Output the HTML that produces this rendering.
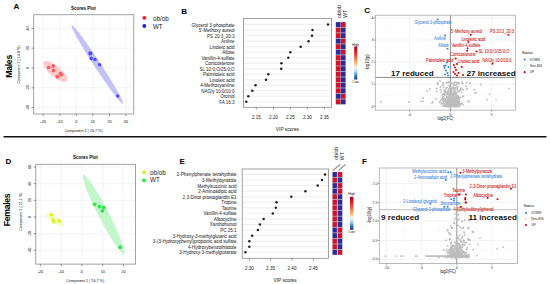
<!DOCTYPE html>
<html><head><meta charset="utf-8"><style>
html,body{margin:0;padding:0;background:#fff;width:550px;height:284px;overflow:hidden}
svg{display:block;font-family:"Liberation Sans",sans-serif}
.gp{text-rendering:geometricPrecision;stroke-width:0.08px}
</style></head><body>
<svg width="550" height="284" viewBox="0 0 550 284">
<rect width="550" height="284" fill="#fff"/>
<defs>
<linearGradient id="gB" x1="0" y1="0" x2="0" y2="1">
<stop offset="0" stop-color="#a50026"/><stop offset="0.15" stop-color="#d7191c"/><stop offset="0.35" stop-color="#f46d43"/><stop offset="0.5" stop-color="#fdb466"/><stop offset="0.63" stop-color="#f7f7ea"/><stop offset="0.76" stop-color="#a6d6ea"/><stop offset="0.88" stop-color="#3b7fc2"/><stop offset="1" stop-color="#1b2f8b"/>
</linearGradient>
<linearGradient id="gE" x1="0" y1="0" x2="0" y2="1">
<stop offset="0" stop-color="#a50026"/><stop offset="0.15" stop-color="#d7191c"/><stop offset="0.35" stop-color="#f46d43"/><stop offset="0.5" stop-color="#fdb466"/><stop offset="0.63" stop-color="#f7f7ea"/><stop offset="0.76" stop-color="#a6d6ea"/><stop offset="0.88" stop-color="#3b7fc2"/><stop offset="1" stop-color="#1b2f8b"/>
</linearGradient>
</defs>
<rect x="33.7" y="14.75" width="100.10000000000001" height="99.25" fill="#fff"/>
<line x1="43.20" y1="14.75" x2="43.20" y2="114.00" stroke="#ececec" stroke-width="0.6"/>
<line x1="59.80" y1="14.75" x2="59.80" y2="114.00" stroke="#ececec" stroke-width="0.6"/>
<line x1="76.30" y1="14.75" x2="76.30" y2="114.00" stroke="#ececec" stroke-width="0.6"/>
<line x1="92.80" y1="14.75" x2="92.80" y2="114.00" stroke="#ececec" stroke-width="0.6"/>
<line x1="109.40" y1="14.75" x2="109.40" y2="114.00" stroke="#ececec" stroke-width="0.6"/>
<line x1="125.90" y1="14.75" x2="125.90" y2="114.00" stroke="#ececec" stroke-width="0.6"/>
<line x1="33.70" y1="28.50" x2="133.80" y2="28.50" stroke="#ececec" stroke-width="0.6"/>
<line x1="33.70" y1="48.25" x2="133.80" y2="48.25" stroke="#ececec" stroke-width="0.6"/>
<line x1="33.70" y1="68.00" x2="133.80" y2="68.00" stroke="#ececec" stroke-width="0.6"/>
<line x1="33.70" y1="87.75" x2="133.80" y2="87.75" stroke="#ececec" stroke-width="0.6"/>
<line x1="33.70" y1="107.50" x2="133.80" y2="107.50" stroke="#ececec" stroke-width="0.6"/>
<ellipse cx="55.45" cy="71.55" rx="14.99" ry="5.4" transform="rotate(39.59 55.45 71.55)" fill="#ffcaca" fill-opacity="1"/>
<ellipse cx="97.30" cy="64.55" rx="46.92" ry="3.25" transform="rotate(56.78 97.30 64.55)" fill="#c2c2f8" fill-opacity="1"/>
<circle cx="48.70" cy="67.50" r="1.85" fill="#ff5a64"/>
<circle cx="53.10" cy="65.90" r="1.85" fill="#ff5a64"/>
<circle cx="53.50" cy="70.50" r="1.85" fill="#ff5a64"/>
<circle cx="57.20" cy="76.70" r="1.85" fill="#ff5a64"/>
<circle cx="60.40" cy="73.60" r="1.85" fill="#ff5a64"/>
<circle cx="61.20" cy="74.60" r="1.85" fill="#ff5a64"/>
<circle cx="91.20" cy="58.40" r="1.8" fill="#4e4eff"/>
<circle cx="95.00" cy="59.50" r="1.8" fill="#4e4eff"/>
<circle cx="99.60" cy="64.70" r="1.8" fill="#4e4eff"/>
<circle cx="117.60" cy="96.00" r="1.8" fill="#4e4eff"/>
<circle cx="90.40" cy="53.40" r="2.1" fill="#4e4eff"/>
<rect x="33.70" y="14.75" width="100.10" height="99.25" fill="none" stroke="#8a8a8a" stroke-width="0.8"/>
<line x1="43.20" y1="114.00" x2="43.20" y2="116.20" stroke="#555" stroke-width="0.6"/>
<g transform="translate(43.20,122.73) scale(0.9,1)"><text font-size="4.111" text-anchor="middle" fill="#333" stroke="#333" stroke-width="0.04">-20</text></g>
<line x1="59.80" y1="114.00" x2="59.80" y2="116.20" stroke="#555" stroke-width="0.6"/>
<g transform="translate(59.80,122.73) scale(0.9,1)"><text font-size="4.111" text-anchor="middle" fill="#333" stroke="#333" stroke-width="0.04">-10</text></g>
<line x1="76.30" y1="114.00" x2="76.30" y2="116.20" stroke="#555" stroke-width="0.6"/>
<g transform="translate(76.30,122.73) scale(0.9,1)"><text font-size="4.111" text-anchor="middle" fill="#333" stroke="#333" stroke-width="0.04">0</text></g>
<line x1="92.80" y1="114.00" x2="92.80" y2="116.20" stroke="#555" stroke-width="0.6"/>
<g transform="translate(92.80,122.73) scale(0.9,1)"><text font-size="4.111" text-anchor="middle" fill="#333" stroke="#333" stroke-width="0.04">10</text></g>
<line x1="109.40" y1="114.00" x2="109.40" y2="116.20" stroke="#555" stroke-width="0.6"/>
<g transform="translate(109.40,122.73) scale(0.9,1)"><text font-size="4.111" text-anchor="middle" fill="#333" stroke="#333" stroke-width="0.04">20</text></g>
<line x1="125.90" y1="114.00" x2="125.90" y2="116.20" stroke="#555" stroke-width="0.6"/>
<g transform="translate(125.90,122.73) scale(0.9,1)"><text font-size="4.111" text-anchor="middle" fill="#333" stroke="#333" stroke-width="0.04">30</text></g>
<line x1="31.50" y1="28.50" x2="33.70" y2="28.50" stroke="#555" stroke-width="0.6"/>
<g transform="translate(28.60,28.50) rotate(-90) scale(0.9,1)"><text font-size="4.111" text-anchor="middle" fill="#333" stroke="#333" stroke-width="0.04">40</text></g>
<line x1="31.50" y1="48.25" x2="33.70" y2="48.25" stroke="#555" stroke-width="0.6"/>
<g transform="translate(28.60,48.25) rotate(-90) scale(0.9,1)"><text font-size="4.111" text-anchor="middle" fill="#333" stroke="#333" stroke-width="0.04">20</text></g>
<line x1="31.50" y1="68.00" x2="33.70" y2="68.00" stroke="#555" stroke-width="0.6"/>
<g transform="translate(28.60,68.00) rotate(-90) scale(0.9,1)"><text font-size="4.111" text-anchor="middle" fill="#333" stroke="#333" stroke-width="0.04">0</text></g>
<line x1="31.50" y1="87.75" x2="33.70" y2="87.75" stroke="#555" stroke-width="0.6"/>
<g transform="translate(28.60,87.75) rotate(-90) scale(0.9,1)"><text font-size="4.111" text-anchor="middle" fill="#333" stroke="#333" stroke-width="0.04">-20</text></g>
<line x1="31.50" y1="107.50" x2="33.70" y2="107.50" stroke="#555" stroke-width="0.6"/>
<g transform="translate(28.60,107.50) rotate(-90) scale(0.9,1)"><text font-size="4.111" text-anchor="middle" fill="#333" stroke="#333" stroke-width="0.04">-40</text></g>
<text x="13.60" y="8.80" font-size="8" text-anchor="start" fill="#000" font-weight="bold">A</text>
<text x="83.50" y="9.82" font-size="4.5" text-anchor="middle" fill="#000" font-weight="bold">Scores Plot</text>
<g transform="translate(19.80,64.50) rotate(-90) scale(0.9,1)"><text font-size="4.111" text-anchor="middle" fill="#333" stroke="#333" stroke-width="0.04">Component 2 ( 14.8 %)</text></g>
<g transform="translate(83.50,131.53) scale(0.9,1)"><text font-size="4.111" text-anchor="middle" fill="#333" stroke="#333" stroke-width="0.04">Component 1 ( 20.7 %)</text></g>
<text transform="translate(12.20,66.40) rotate(-90)" font-size="8.7" text-anchor="middle" font-weight="bold" letter-spacing="-0.3">Males</text>
<rect x="35.8" y="164.3" width="99.60000000000001" height="99.80000000000001" fill="#fff"/>
<line x1="40.40" y1="164.30" x2="40.40" y2="264.10" stroke="#ececec" stroke-width="0.6"/>
<line x1="61.20" y1="164.30" x2="61.20" y2="264.10" stroke="#ececec" stroke-width="0.6"/>
<line x1="81.90" y1="164.30" x2="81.90" y2="264.10" stroke="#ececec" stroke-width="0.6"/>
<line x1="102.70" y1="164.30" x2="102.70" y2="264.10" stroke="#ececec" stroke-width="0.6"/>
<line x1="123.40" y1="164.30" x2="123.40" y2="264.10" stroke="#ececec" stroke-width="0.6"/>
<line x1="35.80" y1="167.00" x2="135.40" y2="167.00" stroke="#ececec" stroke-width="0.6"/>
<line x1="35.80" y1="183.70" x2="135.40" y2="183.70" stroke="#ececec" stroke-width="0.6"/>
<line x1="35.80" y1="200.30" x2="135.40" y2="200.30" stroke="#ececec" stroke-width="0.6"/>
<line x1="35.80" y1="217.00" x2="135.40" y2="217.00" stroke="#ececec" stroke-width="0.6"/>
<line x1="35.80" y1="233.60" x2="135.40" y2="233.60" stroke="#ececec" stroke-width="0.6"/>
<line x1="35.80" y1="250.30" x2="135.40" y2="250.30" stroke="#ececec" stroke-width="0.6"/>
<ellipse cx="55.00" cy="219.80" rx="10.85" ry="3.4" transform="rotate(32.96 55.00 219.80)" fill="#f2fcc6" fill-opacity="1"/>
<ellipse cx="103.65" cy="214.45" rx="44.48" ry="5.2" transform="rotate(62.77 103.65 214.45)" fill="#c4f6cc" fill-opacity="1"/>
<circle cx="51.30" cy="214.70" r="1.9" fill="#dff22a"/>
<circle cx="53.10" cy="219.80" r="1.9" fill="#dff22a"/>
<circle cx="53.80" cy="221.70" r="1.9" fill="#dff22a"/>
<circle cx="59.50" cy="220.80" r="1.9" fill="#dff22a"/>
<circle cx="94.60" cy="204.30" r="1.9" fill="#2ae84e"/>
<circle cx="99.40" cy="206.60" r="1.9" fill="#2ae84e"/>
<circle cx="103.70" cy="207.50" r="1.9" fill="#2ae84e"/>
<circle cx="102.40" cy="210.80" r="1.9" fill="#2ae84e"/>
<circle cx="120.20" cy="247.20" r="1.9" fill="#2ae84e"/>
<rect x="35.80" y="164.30" width="99.60" height="99.80" fill="none" stroke="#8a8a8a" stroke-width="0.8"/>
<line x1="40.40" y1="264.10" x2="40.40" y2="266.30" stroke="#555" stroke-width="0.6"/>
<g transform="translate(40.40,273.33) scale(0.9,1)"><text font-size="4.111" text-anchor="middle" fill="#333" stroke="#333" stroke-width="0.04">-20</text></g>
<line x1="61.20" y1="264.10" x2="61.20" y2="266.30" stroke="#555" stroke-width="0.6"/>
<g transform="translate(61.20,273.33) scale(0.9,1)"><text font-size="4.111" text-anchor="middle" fill="#333" stroke="#333" stroke-width="0.04">-10</text></g>
<line x1="81.90" y1="264.10" x2="81.90" y2="266.30" stroke="#555" stroke-width="0.6"/>
<g transform="translate(81.90,273.33) scale(0.9,1)"><text font-size="4.111" text-anchor="middle" fill="#333" stroke="#333" stroke-width="0.04">0</text></g>
<line x1="102.70" y1="264.10" x2="102.70" y2="266.30" stroke="#555" stroke-width="0.6"/>
<g transform="translate(102.70,273.33) scale(0.9,1)"><text font-size="4.111" text-anchor="middle" fill="#333" stroke="#333" stroke-width="0.04">10</text></g>
<line x1="123.40" y1="264.10" x2="123.40" y2="266.30" stroke="#555" stroke-width="0.6"/>
<g transform="translate(123.40,273.33) scale(0.9,1)"><text font-size="4.111" text-anchor="middle" fill="#333" stroke="#333" stroke-width="0.04">20</text></g>
<line x1="33.60" y1="167.00" x2="35.80" y2="167.00" stroke="#555" stroke-width="0.6"/>
<g transform="translate(30.70,167.00) rotate(-90) scale(0.9,1)"><text font-size="4.111" text-anchor="middle" fill="#333" stroke="#333" stroke-width="0.04">60</text></g>
<line x1="33.60" y1="183.70" x2="35.80" y2="183.70" stroke="#555" stroke-width="0.6"/>
<g transform="translate(30.70,183.70) rotate(-90) scale(0.9,1)"><text font-size="4.111" text-anchor="middle" fill="#333" stroke="#333" stroke-width="0.04">40</text></g>
<line x1="33.60" y1="200.30" x2="35.80" y2="200.30" stroke="#555" stroke-width="0.6"/>
<g transform="translate(30.70,200.30) rotate(-90) scale(0.9,1)"><text font-size="4.111" text-anchor="middle" fill="#333" stroke="#333" stroke-width="0.04">20</text></g>
<line x1="33.60" y1="217.00" x2="35.80" y2="217.00" stroke="#555" stroke-width="0.6"/>
<g transform="translate(30.70,217.00) rotate(-90) scale(0.9,1)"><text font-size="4.111" text-anchor="middle" fill="#333" stroke="#333" stroke-width="0.04">0</text></g>
<line x1="33.60" y1="233.60" x2="35.80" y2="233.60" stroke="#555" stroke-width="0.6"/>
<g transform="translate(30.70,233.60) rotate(-90) scale(0.9,1)"><text font-size="4.111" text-anchor="middle" fill="#333" stroke="#333" stroke-width="0.04">-20</text></g>
<line x1="33.60" y1="250.30" x2="35.80" y2="250.30" stroke="#555" stroke-width="0.6"/>
<g transform="translate(30.70,250.30) rotate(-90) scale(0.9,1)"><text font-size="4.111" text-anchor="middle" fill="#333" stroke="#333" stroke-width="0.04">-40</text></g>
<text x="5.60" y="164.20" font-size="8" text-anchor="start" fill="#000" font-weight="bold">D</text>
<text x="85.40" y="159.42" font-size="4.5" text-anchor="middle" fill="#000" font-weight="bold">Scores Plot</text>
<g transform="translate(22.00,211.70) rotate(-90) scale(0.9,1)"><text font-size="4.111" text-anchor="middle" fill="#333" stroke="#333" stroke-width="0.04">Component 2 ( 21.1 %)</text></g>
<g transform="translate(85.00,281.83) scale(0.9,1)"><text font-size="4.111" text-anchor="middle" fill="#333" stroke="#333" stroke-width="0.04">Component 1 ( 16.7 %)</text></g>
<text transform="translate(10.40,210.00) rotate(-90)" font-size="8.7" text-anchor="middle" font-weight="bold" letter-spacing="-0.3">Females</text>
<circle cx="144.30" cy="17.80" r="1.9" fill="#ff1414"/>
<circle cx="144.30" cy="26.00" r="1.9" fill="#1a1aff"/>
<text x="152.90" y="21.37" font-size="6.3" text-anchor="start" fill="#222">ob/ob</text>
<text x="152.90" y="28.87" font-size="6.3" text-anchor="start" fill="#222">WT</text>
<circle cx="144.00" cy="172.30" r="1.9" fill="#d8f01a"/>
<circle cx="144.00" cy="180.30" r="1.9" fill="#1af52a"/>
<text x="150.00" y="174.77" font-size="6.3" text-anchor="start" fill="#222">ob/ob</text>
<text x="150.00" y="182.27" font-size="6.3" text-anchor="start" fill="#222">WT</text>
<rect x="243.4" y="18.5" width="87.99999999999997" height="88.8" fill="#fff"/>
<line x1="243.40" y1="24.60" x2="331.40" y2="24.60" stroke="#e2e2e2" stroke-width="0.6"/>
<g transform="translate(234.60,26.55) scale(0.9,1)"><text font-size="5.05" text-anchor="end" fill="#333" stroke="#333" stroke-width="0.05">Glycerol 3-phosphate</text></g>
<circle cx="328.00" cy="24.60" r="1.25" fill="#222"/>
<line x1="243.40" y1="30.11" x2="331.40" y2="30.11" stroke="#e2e2e2" stroke-width="0.6"/>
<g transform="translate(234.60,32.06) scale(0.9,1)"><text font-size="5.05" text-anchor="end" fill="#333" stroke="#333" stroke-width="0.05">5'-Methoxy aureol</text></g>
<circle cx="312.50" cy="30.11" r="1.25" fill="#222"/>
<line x1="243.40" y1="35.63" x2="331.40" y2="35.63" stroke="#e2e2e2" stroke-width="0.6"/>
<g transform="translate(234.60,37.58) scale(0.9,1)"><text font-size="5.05" text-anchor="end" fill="#333" stroke="#333" stroke-width="0.05">PS 20:3_20:3</text></g>
<circle cx="312.00" cy="35.63" r="1.25" fill="#222"/>
<line x1="243.40" y1="41.14" x2="331.40" y2="41.14" stroke="#e2e2e2" stroke-width="0.6"/>
<g transform="translate(234.60,43.09) scale(0.9,1)"><text font-size="5.05" text-anchor="end" fill="#333" stroke="#333" stroke-width="0.05">Aniline</text></g>
<circle cx="308.60" cy="41.14" r="1.25" fill="#222"/>
<line x1="243.40" y1="46.66" x2="331.40" y2="46.66" stroke="#e2e2e2" stroke-width="0.6"/>
<g transform="translate(234.60,48.61) scale(0.9,1)"><text font-size="5.05" text-anchor="end" fill="#333" stroke="#333" stroke-width="0.05">Linoleic acid</text></g>
<circle cx="300.70" cy="46.66" r="1.25" fill="#222"/>
<line x1="243.40" y1="52.17" x2="331.40" y2="52.17" stroke="#e2e2e2" stroke-width="0.6"/>
<g transform="translate(234.60,54.12) scale(0.9,1)"><text font-size="5.05" text-anchor="end" fill="#333" stroke="#333" stroke-width="0.05">Allose</text></g>
<circle cx="290.30" cy="52.17" r="1.25" fill="#222"/>
<line x1="243.40" y1="57.68" x2="331.40" y2="57.68" stroke="#e2e2e2" stroke-width="0.6"/>
<g transform="translate(234.60,59.63) scale(0.9,1)"><text font-size="5.05" text-anchor="end" fill="#333" stroke="#333" stroke-width="0.05">Vanillin-4-sulfate</text></g>
<circle cx="288.30" cy="57.68" r="1.25" fill="#222"/>
<line x1="243.40" y1="63.20" x2="331.40" y2="63.20" stroke="#e2e2e2" stroke-width="0.6"/>
<g transform="translate(234.60,65.15) scale(0.9,1)"><text font-size="5.05" text-anchor="end" fill="#333" stroke="#333" stroke-width="0.05">Corticosterone</text></g>
<circle cx="281.40" cy="63.20" r="1.25" fill="#222"/>
<line x1="243.40" y1="68.71" x2="331.40" y2="68.71" stroke="#e2e2e2" stroke-width="0.6"/>
<g transform="translate(234.60,70.66) scale(0.9,1)"><text font-size="5.05" text-anchor="end" fill="#333" stroke="#333" stroke-width="0.05">SL 10:0;O/25:0;O</text></g>
<circle cx="281.20" cy="68.71" r="1.25" fill="#222"/>
<line x1="243.40" y1="74.23" x2="331.40" y2="74.23" stroke="#e2e2e2" stroke-width="0.6"/>
<g transform="translate(234.60,76.18) scale(0.9,1)"><text font-size="5.05" text-anchor="end" fill="#333" stroke="#333" stroke-width="0.05">Palmitoleic acid</text></g>
<circle cx="268.30" cy="74.23" r="1.25" fill="#222"/>
<line x1="243.40" y1="79.74" x2="331.40" y2="79.74" stroke="#e2e2e2" stroke-width="0.6"/>
<g transform="translate(234.60,81.69) scale(0.9,1)"><text font-size="5.05" text-anchor="end" fill="#333" stroke="#333" stroke-width="0.05">Linoleic acid</text></g>
<circle cx="266.00" cy="79.74" r="1.25" fill="#222"/>
<line x1="243.40" y1="85.25" x2="331.40" y2="85.25" stroke="#e2e2e2" stroke-width="0.6"/>
<g transform="translate(234.60,87.20) scale(0.9,1)"><text font-size="5.05" text-anchor="end" fill="#333" stroke="#333" stroke-width="0.05">4-Methoxyaniline</text></g>
<circle cx="255.50" cy="85.25" r="1.25" fill="#222"/>
<line x1="243.40" y1="90.77" x2="331.40" y2="90.77" stroke="#e2e2e2" stroke-width="0.6"/>
<g transform="translate(234.60,92.72) scale(0.9,1)"><text font-size="5.05" text-anchor="end" fill="#333" stroke="#333" stroke-width="0.05">NAGly 10:0/10:0</text></g>
<circle cx="252.30" cy="90.77" r="1.25" fill="#222"/>
<line x1="243.40" y1="96.28" x2="331.40" y2="96.28" stroke="#e2e2e2" stroke-width="0.6"/>
<g transform="translate(234.60,98.23) scale(0.9,1)"><text font-size="5.05" text-anchor="end" fill="#333" stroke="#333" stroke-width="0.05">Orcinol</text></g>
<circle cx="248.30" cy="96.28" r="1.25" fill="#222"/>
<line x1="243.40" y1="101.80" x2="331.40" y2="101.80" stroke="#e2e2e2" stroke-width="0.6"/>
<g transform="translate(234.60,103.75) scale(0.9,1)"><text font-size="5.05" text-anchor="end" fill="#333" stroke="#333" stroke-width="0.05">FA 16:3</text></g>
<circle cx="246.30" cy="101.80" r="1.25" fill="#222"/>
<rect x="243.40" y="18.50" width="88.00" height="88.80" fill="none" stroke="#8a8a8a" stroke-width="0.8"/>
<line x1="256.40" y1="107.30" x2="256.40" y2="109.50" stroke="#555" stroke-width="0.6"/>
<g transform="translate(256.40,119.16) scale(0.9,1)"><text font-size="5.111" text-anchor="middle" fill="#333" stroke="#333" stroke-width="0.05">2.15</text></g>
<line x1="273.40" y1="107.30" x2="273.40" y2="109.50" stroke="#555" stroke-width="0.6"/>
<g transform="translate(273.40,119.16) scale(0.9,1)"><text font-size="5.111" text-anchor="middle" fill="#333" stroke="#333" stroke-width="0.05">2.20</text></g>
<line x1="290.40" y1="107.30" x2="290.40" y2="109.50" stroke="#555" stroke-width="0.6"/>
<g transform="translate(290.40,119.16) scale(0.9,1)"><text font-size="5.111" text-anchor="middle" fill="#333" stroke="#333" stroke-width="0.05">2.25</text></g>
<line x1="307.40" y1="107.30" x2="307.40" y2="109.50" stroke="#555" stroke-width="0.6"/>
<g transform="translate(307.40,119.16) scale(0.9,1)"><text font-size="5.111" text-anchor="middle" fill="#333" stroke="#333" stroke-width="0.05">2.30</text></g>
<line x1="324.40" y1="107.30" x2="324.40" y2="109.50" stroke="#555" stroke-width="0.6"/>
<g transform="translate(324.40,119.16) scale(0.9,1)"><text font-size="5.111" text-anchor="middle" fill="#333" stroke="#333" stroke-width="0.05">2.35</text></g>
<g transform="translate(287.40,130.53) scale(0.9,1)"><text font-size="5.333" text-anchor="middle" fill="#333" stroke="#333" stroke-width="0.05">VIP scores</text></g>
<text x="181.30" y="14.00" font-size="8" text-anchor="start" fill="#000" font-weight="bold">B</text>
<rect x="335.60" y="21.84" width="10.20" height="82.71" fill="#c4c4c4" stroke="none" stroke-width="1"/>
<rect x="335.90" y="22.19" width="4.60" height="4.81" fill="#2b2b9e" stroke="none" stroke-width="1"/>
<rect x="340.90" y="22.19" width="4.60" height="4.81" fill="#d1122c" stroke="none" stroke-width="1"/>
<rect x="335.90" y="27.71" width="4.60" height="4.81" fill="#d1122c" stroke="none" stroke-width="1"/>
<rect x="340.90" y="27.71" width="4.60" height="4.81" fill="#2b2b9e" stroke="none" stroke-width="1"/>
<rect x="335.90" y="33.22" width="4.60" height="4.81" fill="#d1122c" stroke="none" stroke-width="1"/>
<rect x="340.90" y="33.22" width="4.60" height="4.81" fill="#2b2b9e" stroke="none" stroke-width="1"/>
<rect x="335.90" y="38.74" width="4.60" height="4.81" fill="#2b2b9e" stroke="none" stroke-width="1"/>
<rect x="340.90" y="38.74" width="4.60" height="4.81" fill="#d1122c" stroke="none" stroke-width="1"/>
<rect x="335.90" y="44.25" width="4.60" height="4.81" fill="#d1122c" stroke="none" stroke-width="1"/>
<rect x="340.90" y="44.25" width="4.60" height="4.81" fill="#2b2b9e" stroke="none" stroke-width="1"/>
<rect x="335.90" y="49.76" width="4.60" height="4.81" fill="#2b2b9e" stroke="none" stroke-width="1"/>
<rect x="340.90" y="49.76" width="4.60" height="4.81" fill="#d1122c" stroke="none" stroke-width="1"/>
<rect x="335.90" y="55.28" width="4.60" height="4.81" fill="#d1122c" stroke="none" stroke-width="1"/>
<rect x="340.90" y="55.28" width="4.60" height="4.81" fill="#2b2b9e" stroke="none" stroke-width="1"/>
<rect x="335.90" y="60.79" width="4.60" height="4.81" fill="#d1122c" stroke="none" stroke-width="1"/>
<rect x="340.90" y="60.79" width="4.60" height="4.81" fill="#2b2b9e" stroke="none" stroke-width="1"/>
<rect x="335.90" y="66.30" width="4.60" height="4.81" fill="#d1122c" stroke="none" stroke-width="1"/>
<rect x="340.90" y="66.30" width="4.60" height="4.81" fill="#2b2b9e" stroke="none" stroke-width="1"/>
<rect x="335.90" y="71.82" width="4.60" height="4.81" fill="#d1122c" stroke="none" stroke-width="1"/>
<rect x="340.90" y="71.82" width="4.60" height="4.81" fill="#2b2b9e" stroke="none" stroke-width="1"/>
<rect x="335.90" y="77.33" width="4.60" height="4.81" fill="#d1122c" stroke="none" stroke-width="1"/>
<rect x="340.90" y="77.33" width="4.60" height="4.81" fill="#2b2b9e" stroke="none" stroke-width="1"/>
<rect x="335.90" y="82.85" width="4.60" height="4.81" fill="#d1122c" stroke="none" stroke-width="1"/>
<rect x="340.90" y="82.85" width="4.60" height="4.81" fill="#2b2b9e" stroke="none" stroke-width="1"/>
<rect x="335.90" y="88.36" width="4.60" height="4.81" fill="#d1122c" stroke="none" stroke-width="1"/>
<rect x="340.90" y="88.36" width="4.60" height="4.81" fill="#2b2b9e" stroke="none" stroke-width="1"/>
<rect x="335.90" y="93.88" width="4.60" height="4.81" fill="#2b2b9e" stroke="none" stroke-width="1"/>
<rect x="340.90" y="93.88" width="4.60" height="4.81" fill="#d1122c" stroke="none" stroke-width="1"/>
<rect x="335.90" y="99.39" width="4.60" height="4.81" fill="#d1122c" stroke="none" stroke-width="1"/>
<rect x="340.90" y="99.39" width="4.60" height="4.81" fill="#2b2b9e" stroke="none" stroke-width="1"/>
<text transform="translate(341.00,11.60) rotate(-90)" font-size="5.2" text-anchor="middle" fill="#222">ob/ob</text>
<text transform="translate(347.20,13.70) rotate(-90)" font-size="5.2" text-anchor="middle" fill="#222">WT</text>
<rect x="354.2" y="46.5" width="3.1" height="33.0" fill="url(#gB)"/>
<g transform="translate(355.70,45.92) scale(0.9,1)"><text font-size="3.778" text-anchor="middle" fill="#333" stroke="#333" stroke-width="0.04">High</text></g>
<g transform="translate(355.70,82.82) scale(0.9,1)"><text font-size="3.778" text-anchor="middle" fill="#333" stroke="#333" stroke-width="0.04">Low</text></g>
<rect x="242.2" y="169.0" width="86.30000000000001" height="89.30000000000001" fill="#fff"/>
<line x1="242.20" y1="174.50" x2="328.50" y2="174.50" stroke="#e2e2e2" stroke-width="0.6"/>
<g transform="translate(236.60,176.45) scale(0.9,1)"><text font-size="5.05" text-anchor="end" fill="#333" stroke="#333" stroke-width="0.05">2-Phenylphenate tetrahydrate</text></g>
<circle cx="325.00" cy="174.50" r="1.25" fill="#222"/>
<line x1="242.20" y1="180.06" x2="328.50" y2="180.06" stroke="#e2e2e2" stroke-width="0.6"/>
<g transform="translate(236.60,182.01) scale(0.9,1)"><text font-size="5.05" text-anchor="end" fill="#333" stroke="#333" stroke-width="0.05">3-Methylpyrazole</text></g>
<circle cx="322.00" cy="180.06" r="1.25" fill="#222"/>
<line x1="242.20" y1="185.61" x2="328.50" y2="185.61" stroke="#e2e2e2" stroke-width="0.6"/>
<g transform="translate(236.60,187.56) scale(0.9,1)"><text font-size="5.05" text-anchor="end" fill="#333" stroke="#333" stroke-width="0.05">Methylsuccinic acid</text></g>
<circle cx="317.70" cy="185.61" r="1.25" fill="#222"/>
<line x1="242.20" y1="191.17" x2="328.50" y2="191.17" stroke="#e2e2e2" stroke-width="0.6"/>
<g transform="translate(236.60,193.12) scale(0.9,1)"><text font-size="5.05" text-anchor="end" fill="#333" stroke="#333" stroke-width="0.05">2-Aminoadipic acid</text></g>
<circle cx="305.40" cy="191.17" r="1.25" fill="#222"/>
<line x1="242.20" y1="196.73" x2="328.50" y2="196.73" stroke="#e2e2e2" stroke-width="0.6"/>
<g transform="translate(236.60,198.68) scale(0.9,1)"><text font-size="5.05" text-anchor="end" fill="#333" stroke="#333" stroke-width="0.05">2,3-Dinor prostaglandin E1</text></g>
<circle cx="291.30" cy="196.73" r="1.25" fill="#222"/>
<line x1="242.20" y1="202.28" x2="328.50" y2="202.28" stroke="#e2e2e2" stroke-width="0.6"/>
<g transform="translate(236.60,204.23) scale(0.9,1)"><text font-size="5.05" text-anchor="end" fill="#333" stroke="#333" stroke-width="0.05">Tropine</text></g>
<circle cx="276.50" cy="202.28" r="1.25" fill="#222"/>
<line x1="242.20" y1="207.84" x2="328.50" y2="207.84" stroke="#e2e2e2" stroke-width="0.6"/>
<g transform="translate(236.60,209.79) scale(0.9,1)"><text font-size="5.05" text-anchor="end" fill="#333" stroke="#333" stroke-width="0.05">Taurine</text></g>
<circle cx="275.80" cy="207.84" r="1.25" fill="#222"/>
<line x1="242.20" y1="213.40" x2="328.50" y2="213.40" stroke="#e2e2e2" stroke-width="0.6"/>
<g transform="translate(236.60,215.35) scale(0.9,1)"><text font-size="5.05" text-anchor="end" fill="#333" stroke="#333" stroke-width="0.05">Vanillin-4-sulfate</text></g>
<circle cx="272.80" cy="213.40" r="1.25" fill="#222"/>
<line x1="242.20" y1="218.96" x2="328.50" y2="218.96" stroke="#e2e2e2" stroke-width="0.6"/>
<g transform="translate(236.60,220.91) scale(0.9,1)"><text font-size="5.05" text-anchor="end" fill="#333" stroke="#333" stroke-width="0.05">Albocycline</text></g>
<circle cx="263.60" cy="218.96" r="1.25" fill="#222"/>
<line x1="242.20" y1="224.51" x2="328.50" y2="224.51" stroke="#e2e2e2" stroke-width="0.6"/>
<g transform="translate(236.60,226.46) scale(0.9,1)"><text font-size="5.05" text-anchor="end" fill="#333" stroke="#333" stroke-width="0.05">Xanthohumol</text></g>
<circle cx="259.90" cy="224.51" r="1.25" fill="#222"/>
<line x1="242.20" y1="230.07" x2="328.50" y2="230.07" stroke="#e2e2e2" stroke-width="0.6"/>
<g transform="translate(236.60,232.02) scale(0.9,1)"><text font-size="5.05" text-anchor="end" fill="#333" stroke="#333" stroke-width="0.05">PC 25:1</text></g>
<circle cx="257.90" cy="230.07" r="1.25" fill="#222"/>
<line x1="242.20" y1="235.63" x2="328.50" y2="235.63" stroke="#e2e2e2" stroke-width="0.6"/>
<g transform="translate(236.60,237.58) scale(0.9,1)"><text font-size="5.05" text-anchor="end" fill="#333" stroke="#333" stroke-width="0.05">3-Hydroxy-3-methylglutaric acid</text></g>
<circle cx="252.20" cy="235.63" r="1.25" fill="#222"/>
<line x1="242.20" y1="241.18" x2="328.50" y2="241.18" stroke="#e2e2e2" stroke-width="0.6"/>
<g transform="translate(236.60,243.13) scale(0.9,1)"><text font-size="5.05" text-anchor="end" fill="#333" stroke="#333" stroke-width="0.05">3-(3-Hydroxyphenyl)propionic acid sulfate</text></g>
<circle cx="249.30" cy="241.18" r="1.25" fill="#222"/>
<line x1="242.20" y1="246.74" x2="328.50" y2="246.74" stroke="#e2e2e2" stroke-width="0.6"/>
<g transform="translate(236.60,248.69) scale(0.9,1)"><text font-size="5.05" text-anchor="end" fill="#333" stroke="#333" stroke-width="0.05">4-Hydroxybenzothiazole</text></g>
<circle cx="249.30" cy="246.74" r="1.25" fill="#222"/>
<line x1="242.20" y1="252.30" x2="328.50" y2="252.30" stroke="#e2e2e2" stroke-width="0.6"/>
<g transform="translate(236.60,254.25) scale(0.9,1)"><text font-size="5.05" text-anchor="end" fill="#333" stroke="#333" stroke-width="0.05">3-Hydroxy-3-methylglutarate</text></g>
<circle cx="245.40" cy="252.30" r="1.25" fill="#222"/>
<rect x="242.20" y="169.00" width="86.30" height="89.30" fill="none" stroke="#8a8a8a" stroke-width="0.8"/>
<line x1="249.40" y1="258.30" x2="249.40" y2="260.50" stroke="#555" stroke-width="0.6"/>
<g transform="translate(249.40,269.96) scale(0.9,1)"><text font-size="5.111" text-anchor="middle" fill="#333" stroke="#333" stroke-width="0.05">2.30</text></g>
<line x1="270.60" y1="258.30" x2="270.60" y2="260.50" stroke="#555" stroke-width="0.6"/>
<g transform="translate(270.60,269.96) scale(0.9,1)"><text font-size="5.111" text-anchor="middle" fill="#333" stroke="#333" stroke-width="0.05">2.35</text></g>
<line x1="292.00" y1="258.30" x2="292.00" y2="260.50" stroke="#555" stroke-width="0.6"/>
<g transform="translate(292.00,269.96) scale(0.9,1)"><text font-size="5.111" text-anchor="middle" fill="#333" stroke="#333" stroke-width="0.05">2.40</text></g>
<line x1="313.40" y1="258.30" x2="313.40" y2="260.50" stroke="#555" stroke-width="0.6"/>
<g transform="translate(313.40,269.96) scale(0.9,1)"><text font-size="5.111" text-anchor="middle" fill="#333" stroke="#333" stroke-width="0.05">2.45</text></g>
<g transform="translate(285.00,281.53) scale(0.9,1)"><text font-size="5.333" text-anchor="middle" fill="#333" stroke="#333" stroke-width="0.05">VIP scores</text></g>
<text x="179.60" y="164.20" font-size="8" text-anchor="start" fill="#000" font-weight="bold">E</text>
<rect x="332.30" y="171.72" width="10.20" height="83.36" fill="#c4c4c4" stroke="none" stroke-width="1"/>
<rect x="332.60" y="172.07" width="4.30" height="4.86" fill="#2b2b9e" stroke="none" stroke-width="1"/>
<rect x="337.90" y="172.07" width="4.30" height="4.86" fill="#d1122c" stroke="none" stroke-width="1"/>
<rect x="332.60" y="177.63" width="4.30" height="4.86" fill="#d1122c" stroke="none" stroke-width="1"/>
<rect x="337.90" y="177.63" width="4.30" height="4.86" fill="#2b2b9e" stroke="none" stroke-width="1"/>
<rect x="332.60" y="183.18" width="4.30" height="4.86" fill="#2b2b9e" stroke="none" stroke-width="1"/>
<rect x="337.90" y="183.18" width="4.30" height="4.86" fill="#d1122c" stroke="none" stroke-width="1"/>
<rect x="332.60" y="188.74" width="4.30" height="4.86" fill="#2b2b9e" stroke="none" stroke-width="1"/>
<rect x="337.90" y="188.74" width="4.30" height="4.86" fill="#d1122c" stroke="none" stroke-width="1"/>
<rect x="332.60" y="194.30" width="4.30" height="4.86" fill="#d1122c" stroke="none" stroke-width="1"/>
<rect x="337.90" y="194.30" width="4.30" height="4.86" fill="#2b2b9e" stroke="none" stroke-width="1"/>
<rect x="332.60" y="199.85" width="4.30" height="4.86" fill="#d1122c" stroke="none" stroke-width="1"/>
<rect x="337.90" y="199.85" width="4.30" height="4.86" fill="#2b2b9e" stroke="none" stroke-width="1"/>
<rect x="332.60" y="205.41" width="4.30" height="4.86" fill="#d1122c" stroke="none" stroke-width="1"/>
<rect x="337.90" y="205.41" width="4.30" height="4.86" fill="#2b2b9e" stroke="none" stroke-width="1"/>
<rect x="332.60" y="210.97" width="4.30" height="4.86" fill="#d1122c" stroke="none" stroke-width="1"/>
<rect x="337.90" y="210.97" width="4.30" height="4.86" fill="#2b2b9e" stroke="none" stroke-width="1"/>
<rect x="332.60" y="216.53" width="4.30" height="4.86" fill="#d1122c" stroke="none" stroke-width="1"/>
<rect x="337.90" y="216.53" width="4.30" height="4.86" fill="#2b2b9e" stroke="none" stroke-width="1"/>
<rect x="332.60" y="222.08" width="4.30" height="4.86" fill="#d1122c" stroke="none" stroke-width="1"/>
<rect x="337.90" y="222.08" width="4.30" height="4.86" fill="#2b2b9e" stroke="none" stroke-width="1"/>
<rect x="332.60" y="227.64" width="4.30" height="4.86" fill="#2b2b9e" stroke="none" stroke-width="1"/>
<rect x="337.90" y="227.64" width="4.30" height="4.86" fill="#d1122c" stroke="none" stroke-width="1"/>
<rect x="332.60" y="233.20" width="4.30" height="4.86" fill="#2b2b9e" stroke="none" stroke-width="1"/>
<rect x="337.90" y="233.20" width="4.30" height="4.86" fill="#d1122c" stroke="none" stroke-width="1"/>
<rect x="332.60" y="238.75" width="4.30" height="4.86" fill="#d1122c" stroke="none" stroke-width="1"/>
<rect x="337.90" y="238.75" width="4.30" height="4.86" fill="#2b2b9e" stroke="none" stroke-width="1"/>
<rect x="332.60" y="244.31" width="4.30" height="4.86" fill="#d1122c" stroke="none" stroke-width="1"/>
<rect x="337.90" y="244.31" width="4.30" height="4.86" fill="#2b2b9e" stroke="none" stroke-width="1"/>
<rect x="332.60" y="249.87" width="4.30" height="4.86" fill="#2b2b9e" stroke="none" stroke-width="1"/>
<rect x="337.90" y="249.87" width="4.30" height="4.86" fill="#d1122c" stroke="none" stroke-width="1"/>
<text transform="translate(338.40,153.30) rotate(-90)" font-size="5.2" text-anchor="middle" fill="#222">ob/ob</text>
<text transform="translate(344.20,156.20) rotate(-90)" font-size="5.2" text-anchor="middle" fill="#222">WT</text>
<rect x="350.0" y="196.8" width="3.4" height="33.0" fill="url(#gE)"/>
<g transform="translate(351.70,195.42) scale(0.9,1)"><text font-size="3.778" text-anchor="middle" fill="#333" stroke="#333" stroke-width="0.04">High</text></g>
<g transform="translate(351.70,233.42) scale(0.9,1)"><text font-size="3.778" text-anchor="middle" fill="#333" stroke="#333" stroke-width="0.04">Low</text></g>
<line x1="332.9" y1="170.6" x2="340.09999999999997" y2="164.4" stroke="#9a9a9a" stroke-width="1.3"/>
<line x1="338.4" y1="170.6" x2="345.59999999999997" y2="164.4" stroke="#9a9a9a" stroke-width="1.3"/>
<rect x="375.3" y="15.2" width="139.99999999999994" height="94.89999999999999" fill="#fff"/>
<line x1="375.30" y1="106.30" x2="515.30" y2="106.30" stroke="#ebebeb" stroke-width="0.6"/>
<line x1="375.30" y1="84.20" x2="515.30" y2="84.20" stroke="#ebebeb" stroke-width="0.6"/>
<line x1="375.30" y1="62.10" x2="515.30" y2="62.10" stroke="#ebebeb" stroke-width="0.6"/>
<line x1="375.30" y1="40.00" x2="515.30" y2="40.00" stroke="#ebebeb" stroke-width="0.6"/>
<line x1="375.30" y1="17.90" x2="515.30" y2="17.90" stroke="#ebebeb" stroke-width="0.6"/>
<line x1="375.30" y1="95.25" x2="515.30" y2="95.25" stroke="#f4f4f4" stroke-width="0.4"/>
<line x1="375.30" y1="73.15" x2="515.30" y2="73.15" stroke="#f4f4f4" stroke-width="0.4"/>
<line x1="375.30" y1="51.05" x2="515.30" y2="51.05" stroke="#f4f4f4" stroke-width="0.4"/>
<line x1="375.30" y1="28.95" x2="515.30" y2="28.95" stroke="#f4f4f4" stroke-width="0.4"/>
<line x1="409.60" y1="15.20" x2="409.60" y2="110.10" stroke="#ebebeb" stroke-width="0.6"/>
<line x1="450.40" y1="15.20" x2="450.40" y2="110.10" stroke="#ebebeb" stroke-width="0.6"/>
<line x1="491.70" y1="15.20" x2="491.70" y2="110.10" stroke="#ebebeb" stroke-width="0.6"/>
<line x1="430.00" y1="15.20" x2="430.00" y2="110.10" stroke="#f4f4f4" stroke-width="0.4"/>
<line x1="471.05" y1="15.20" x2="471.05" y2="110.10" stroke="#f4f4f4" stroke-width="0.4"/>
<line x1="389.20" y1="15.20" x2="389.20" y2="110.10" stroke="#f4f4f4" stroke-width="0.4"/>
<line x1="512.10" y1="15.20" x2="512.10" y2="110.10" stroke="#f4f4f4" stroke-width="0.4"/>
<line x1="450.40" y1="15.20" x2="450.40" y2="110.10" stroke="#555" stroke-width="0.6"/>
<line x1="375.30" y1="77.40" x2="515.30" y2="77.40" stroke="#5a5a5a" stroke-width="0.7"/>
<circle cx="450.40" cy="102.00" r="0.95" fill="#bdbdbd"/>
<circle cx="450.53" cy="103.76" r="0.95" fill="#bdbdbd"/>
<circle cx="447.50" cy="104.68" r="0.95" fill="#bdbdbd"/>
<circle cx="456.28" cy="102.78" r="0.95" fill="#bdbdbd"/>
<circle cx="455.96" cy="104.36" r="0.95" fill="#bdbdbd"/>
<circle cx="453.20" cy="104.93" r="0.95" fill="#bdbdbd"/>
<circle cx="444.34" cy="98.90" r="0.95" fill="#bdbdbd"/>
<circle cx="453.68" cy="102.11" r="0.95" fill="#bdbdbd"/>
<circle cx="444.23" cy="90.91" r="0.95" fill="#bdbdbd"/>
<circle cx="447.67" cy="102.39" r="0.95" fill="#bdbdbd"/>
<circle cx="452.81" cy="106.19" r="0.95" fill="#bdbdbd"/>
<circle cx="453.74" cy="100.82" r="0.95" fill="#bdbdbd"/>
<circle cx="452.83" cy="103.05" r="0.95" fill="#bdbdbd"/>
<circle cx="448.66" cy="91.14" r="0.95" fill="#bdbdbd"/>
<circle cx="453.89" cy="95.83" r="0.95" fill="#bdbdbd"/>
<circle cx="448.83" cy="99.94" r="0.95" fill="#bdbdbd"/>
<circle cx="450.02" cy="105.64" r="0.95" fill="#bdbdbd"/>
<circle cx="454.22" cy="104.36" r="0.95" fill="#bdbdbd"/>
<circle cx="449.58" cy="97.99" r="0.95" fill="#bdbdbd"/>
<circle cx="449.26" cy="95.61" r="0.95" fill="#bdbdbd"/>
<circle cx="448.03" cy="104.40" r="0.95" fill="#bdbdbd"/>
<circle cx="453.33" cy="93.19" r="0.95" fill="#bdbdbd"/>
<circle cx="451.71" cy="94.84" r="0.95" fill="#bdbdbd"/>
<circle cx="442.84" cy="103.71" r="0.95" fill="#bdbdbd"/>
<circle cx="451.04" cy="99.24" r="0.95" fill="#bdbdbd"/>
<circle cx="453.64" cy="106.04" r="0.95" fill="#bdbdbd"/>
<circle cx="445.20" cy="99.15" r="0.95" fill="#bdbdbd"/>
<circle cx="454.38" cy="98.09" r="0.95" fill="#bdbdbd"/>
<circle cx="457.69" cy="103.34" r="0.95" fill="#bdbdbd"/>
<circle cx="452.01" cy="94.91" r="0.95" fill="#bdbdbd"/>
<circle cx="454.15" cy="101.09" r="0.95" fill="#bdbdbd"/>
<circle cx="449.55" cy="95.22" r="0.95" fill="#bdbdbd"/>
<circle cx="447.34" cy="101.82" r="0.95" fill="#bdbdbd"/>
<circle cx="457.04" cy="88.31" r="0.95" fill="#bdbdbd"/>
<circle cx="445.23" cy="104.45" r="0.95" fill="#bdbdbd"/>
<circle cx="457.71" cy="101.39" r="0.95" fill="#bdbdbd"/>
<circle cx="443.33" cy="83.94" r="0.95" fill="#bdbdbd"/>
<circle cx="453.04" cy="99.97" r="0.95" fill="#bdbdbd"/>
<circle cx="446.68" cy="97.80" r="0.95" fill="#bdbdbd"/>
<circle cx="456.24" cy="105.18" r="0.95" fill="#bdbdbd"/>
<circle cx="452.56" cy="102.69" r="0.95" fill="#bdbdbd"/>
<circle cx="458.35" cy="101.03" r="0.95" fill="#bdbdbd"/>
<circle cx="453.73" cy="101.67" r="0.95" fill="#bdbdbd"/>
<circle cx="444.76" cy="95.06" r="0.95" fill="#bdbdbd"/>
<circle cx="455.61" cy="101.83" r="0.95" fill="#bdbdbd"/>
<circle cx="443.01" cy="100.90" r="0.95" fill="#bdbdbd"/>
<circle cx="455.12" cy="90.30" r="0.95" fill="#bdbdbd"/>
<circle cx="450.71" cy="97.42" r="0.95" fill="#bdbdbd"/>
<circle cx="445.86" cy="92.11" r="0.95" fill="#bdbdbd"/>
<circle cx="453.87" cy="105.25" r="0.95" fill="#bdbdbd"/>
<circle cx="452.90" cy="100.75" r="0.95" fill="#bdbdbd"/>
<circle cx="452.02" cy="96.29" r="0.95" fill="#bdbdbd"/>
<circle cx="448.66" cy="102.87" r="0.95" fill="#bdbdbd"/>
<circle cx="455.98" cy="106.36" r="0.95" fill="#bdbdbd"/>
<circle cx="447.71" cy="98.08" r="0.95" fill="#bdbdbd"/>
<circle cx="457.80" cy="102.60" r="0.95" fill="#bdbdbd"/>
<circle cx="445.57" cy="105.39" r="0.95" fill="#bdbdbd"/>
<circle cx="450.86" cy="103.92" r="0.95" fill="#bdbdbd"/>
<circle cx="457.54" cy="97.36" r="0.95" fill="#bdbdbd"/>
<circle cx="456.92" cy="95.19" r="0.95" fill="#bdbdbd"/>
<circle cx="448.12" cy="100.92" r="0.95" fill="#bdbdbd"/>
<circle cx="456.35" cy="98.87" r="0.95" fill="#bdbdbd"/>
<circle cx="452.98" cy="105.32" r="0.95" fill="#bdbdbd"/>
<circle cx="452.16" cy="101.42" r="0.95" fill="#bdbdbd"/>
<circle cx="450.74" cy="104.10" r="0.95" fill="#bdbdbd"/>
<circle cx="453.96" cy="106.59" r="0.95" fill="#bdbdbd"/>
<circle cx="454.79" cy="101.51" r="0.95" fill="#bdbdbd"/>
<circle cx="460.15" cy="103.68" r="0.95" fill="#bdbdbd"/>
<circle cx="449.66" cy="103.25" r="0.95" fill="#bdbdbd"/>
<circle cx="451.44" cy="98.29" r="0.95" fill="#bdbdbd"/>
<circle cx="450.05" cy="103.13" r="0.95" fill="#bdbdbd"/>
<circle cx="459.40" cy="83.52" r="0.95" fill="#bdbdbd"/>
<circle cx="446.67" cy="104.40" r="0.95" fill="#bdbdbd"/>
<circle cx="453.21" cy="104.45" r="0.95" fill="#bdbdbd"/>
<circle cx="449.65" cy="100.70" r="0.95" fill="#bdbdbd"/>
<circle cx="452.71" cy="101.90" r="0.95" fill="#bdbdbd"/>
<circle cx="461.95" cy="103.40" r="0.95" fill="#bdbdbd"/>
<circle cx="449.12" cy="105.70" r="0.95" fill="#bdbdbd"/>
<circle cx="450.53" cy="106.04" r="0.95" fill="#bdbdbd"/>
<circle cx="439.77" cy="102.22" r="0.95" fill="#bdbdbd"/>
<circle cx="455.84" cy="96.08" r="0.95" fill="#bdbdbd"/>
<circle cx="451.21" cy="98.02" r="0.95" fill="#bdbdbd"/>
<circle cx="455.18" cy="93.18" r="0.95" fill="#bdbdbd"/>
<circle cx="444.18" cy="103.42" r="0.95" fill="#bdbdbd"/>
<circle cx="450.03" cy="100.99" r="0.95" fill="#bdbdbd"/>
<circle cx="456.19" cy="82.45" r="0.95" fill="#bdbdbd"/>
<circle cx="456.18" cy="93.57" r="0.95" fill="#bdbdbd"/>
<circle cx="454.44" cy="93.17" r="0.95" fill="#bdbdbd"/>
<circle cx="452.26" cy="95.85" r="0.95" fill="#bdbdbd"/>
<circle cx="450.86" cy="104.88" r="0.95" fill="#bdbdbd"/>
<circle cx="454.93" cy="105.33" r="0.95" fill="#bdbdbd"/>
<circle cx="451.12" cy="92.80" r="0.95" fill="#bdbdbd"/>
<circle cx="456.01" cy="103.96" r="0.95" fill="#bdbdbd"/>
<circle cx="463.30" cy="96.28" r="0.95" fill="#bdbdbd"/>
<circle cx="455.43" cy="104.21" r="0.95" fill="#bdbdbd"/>
<circle cx="452.07" cy="100.25" r="0.95" fill="#bdbdbd"/>
<circle cx="452.46" cy="100.85" r="0.95" fill="#bdbdbd"/>
<circle cx="444.93" cy="93.01" r="0.95" fill="#bdbdbd"/>
<circle cx="454.14" cy="97.93" r="0.95" fill="#bdbdbd"/>
<circle cx="447.09" cy="93.37" r="0.95" fill="#bdbdbd"/>
<circle cx="456.95" cy="99.88" r="0.95" fill="#bdbdbd"/>
<circle cx="457.83" cy="98.16" r="0.95" fill="#bdbdbd"/>
<circle cx="451.50" cy="96.34" r="0.95" fill="#bdbdbd"/>
<circle cx="454.79" cy="92.30" r="0.95" fill="#bdbdbd"/>
<circle cx="447.67" cy="92.56" r="0.95" fill="#bdbdbd"/>
<circle cx="455.75" cy="105.00" r="0.95" fill="#bdbdbd"/>
<circle cx="443.02" cy="93.94" r="0.95" fill="#bdbdbd"/>
<circle cx="451.09" cy="101.17" r="0.95" fill="#bdbdbd"/>
<circle cx="453.22" cy="102.91" r="0.95" fill="#bdbdbd"/>
<circle cx="457.94" cy="97.42" r="0.95" fill="#bdbdbd"/>
<circle cx="456.39" cy="93.21" r="0.95" fill="#bdbdbd"/>
<circle cx="457.74" cy="104.97" r="0.95" fill="#bdbdbd"/>
<circle cx="448.30" cy="97.43" r="0.95" fill="#bdbdbd"/>
<circle cx="452.00" cy="105.48" r="0.95" fill="#bdbdbd"/>
<circle cx="457.62" cy="104.23" r="0.95" fill="#bdbdbd"/>
<circle cx="441.62" cy="103.12" r="0.95" fill="#bdbdbd"/>
<circle cx="443.53" cy="99.23" r="0.95" fill="#bdbdbd"/>
<circle cx="452.86" cy="101.10" r="0.95" fill="#bdbdbd"/>
<circle cx="451.46" cy="99.11" r="0.95" fill="#bdbdbd"/>
<circle cx="451.84" cy="94.66" r="0.95" fill="#bdbdbd"/>
<circle cx="451.24" cy="97.24" r="0.95" fill="#bdbdbd"/>
<circle cx="457.91" cy="92.11" r="0.95" fill="#bdbdbd"/>
<circle cx="448.61" cy="98.68" r="0.95" fill="#bdbdbd"/>
<circle cx="443.43" cy="96.85" r="0.95" fill="#bdbdbd"/>
<circle cx="443.06" cy="96.98" r="0.95" fill="#bdbdbd"/>
<circle cx="446.20" cy="106.49" r="0.95" fill="#bdbdbd"/>
<circle cx="450.67" cy="106.34" r="0.95" fill="#bdbdbd"/>
<circle cx="448.96" cy="104.50" r="0.95" fill="#bdbdbd"/>
<circle cx="459.20" cy="106.20" r="0.95" fill="#bdbdbd"/>
<circle cx="453.78" cy="97.60" r="0.95" fill="#bdbdbd"/>
<circle cx="450.65" cy="95.26" r="0.95" fill="#bdbdbd"/>
<circle cx="449.11" cy="96.94" r="0.95" fill="#bdbdbd"/>
<circle cx="444.42" cy="101.22" r="0.95" fill="#bdbdbd"/>
<circle cx="455.83" cy="99.47" r="0.95" fill="#bdbdbd"/>
<circle cx="451.53" cy="99.35" r="0.95" fill="#bdbdbd"/>
<circle cx="452.21" cy="95.99" r="0.95" fill="#bdbdbd"/>
<circle cx="444.78" cy="100.85" r="0.95" fill="#bdbdbd"/>
<circle cx="455.47" cy="101.51" r="0.95" fill="#bdbdbd"/>
<circle cx="447.62" cy="99.66" r="0.95" fill="#bdbdbd"/>
<circle cx="444.91" cy="105.54" r="0.95" fill="#bdbdbd"/>
<circle cx="446.43" cy="103.32" r="0.95" fill="#bdbdbd"/>
<circle cx="441.35" cy="103.65" r="0.95" fill="#bdbdbd"/>
<circle cx="448.74" cy="89.12" r="0.95" fill="#bdbdbd"/>
<circle cx="454.62" cy="104.12" r="0.95" fill="#bdbdbd"/>
<circle cx="441.91" cy="98.72" r="0.95" fill="#bdbdbd"/>
<circle cx="452.75" cy="102.47" r="0.95" fill="#bdbdbd"/>
<circle cx="454.85" cy="99.87" r="0.95" fill="#bdbdbd"/>
<circle cx="454.36" cy="103.66" r="0.95" fill="#bdbdbd"/>
<circle cx="457.23" cy="100.66" r="0.95" fill="#bdbdbd"/>
<circle cx="453.44" cy="87.84" r="0.95" fill="#bdbdbd"/>
<circle cx="455.36" cy="94.82" r="0.95" fill="#bdbdbd"/>
<circle cx="450.22" cy="102.37" r="0.95" fill="#bdbdbd"/>
<circle cx="459.84" cy="90.78" r="0.95" fill="#bdbdbd"/>
<circle cx="453.52" cy="84.79" r="0.95" fill="#bdbdbd"/>
<circle cx="447.51" cy="100.39" r="0.95" fill="#bdbdbd"/>
<circle cx="459.61" cy="105.52" r="0.95" fill="#bdbdbd"/>
<circle cx="453.91" cy="98.48" r="0.95" fill="#bdbdbd"/>
<circle cx="447.61" cy="105.80" r="0.95" fill="#bdbdbd"/>
<circle cx="452.76" cy="99.17" r="0.95" fill="#bdbdbd"/>
<circle cx="451.35" cy="104.84" r="0.95" fill="#bdbdbd"/>
<circle cx="447.13" cy="103.37" r="0.95" fill="#bdbdbd"/>
<circle cx="455.33" cy="105.68" r="0.95" fill="#bdbdbd"/>
<circle cx="447.83" cy="99.03" r="0.95" fill="#bdbdbd"/>
<circle cx="462.97" cy="96.34" r="0.95" fill="#bdbdbd"/>
<circle cx="454.24" cy="83.26" r="0.95" fill="#bdbdbd"/>
<circle cx="454.17" cy="102.27" r="0.95" fill="#bdbdbd"/>
<circle cx="458.74" cy="102.75" r="0.95" fill="#bdbdbd"/>
<circle cx="451.21" cy="101.90" r="0.95" fill="#bdbdbd"/>
<circle cx="443.14" cy="97.30" r="0.95" fill="#bdbdbd"/>
<circle cx="452.90" cy="100.28" r="0.95" fill="#bdbdbd"/>
<circle cx="457.20" cy="90.32" r="0.95" fill="#bdbdbd"/>
<circle cx="445.47" cy="100.60" r="0.95" fill="#bdbdbd"/>
<circle cx="452.75" cy="104.95" r="0.95" fill="#bdbdbd"/>
<circle cx="449.79" cy="97.83" r="0.95" fill="#bdbdbd"/>
<circle cx="460.62" cy="97.26" r="0.95" fill="#bdbdbd"/>
<circle cx="446.36" cy="94.49" r="0.95" fill="#bdbdbd"/>
<circle cx="458.82" cy="97.70" r="0.95" fill="#bdbdbd"/>
<circle cx="459.33" cy="99.31" r="0.95" fill="#bdbdbd"/>
<circle cx="447.75" cy="104.25" r="0.95" fill="#bdbdbd"/>
<circle cx="442.21" cy="99.87" r="0.95" fill="#bdbdbd"/>
<circle cx="451.25" cy="101.90" r="0.95" fill="#bdbdbd"/>
<circle cx="448.37" cy="105.48" r="0.95" fill="#bdbdbd"/>
<circle cx="453.47" cy="103.21" r="0.95" fill="#bdbdbd"/>
<circle cx="454.24" cy="104.72" r="0.95" fill="#bdbdbd"/>
<circle cx="450.11" cy="99.50" r="0.95" fill="#bdbdbd"/>
<circle cx="451.71" cy="99.17" r="0.95" fill="#bdbdbd"/>
<circle cx="448.81" cy="106.60" r="0.95" fill="#bdbdbd"/>
<circle cx="451.03" cy="105.19" r="0.95" fill="#bdbdbd"/>
<circle cx="451.50" cy="105.02" r="0.95" fill="#bdbdbd"/>
<circle cx="450.92" cy="95.27" r="0.95" fill="#bdbdbd"/>
<circle cx="453.31" cy="97.12" r="0.95" fill="#bdbdbd"/>
<circle cx="453.37" cy="104.90" r="0.95" fill="#bdbdbd"/>
<circle cx="453.42" cy="97.91" r="0.95" fill="#bdbdbd"/>
<circle cx="443.35" cy="106.06" r="0.95" fill="#bdbdbd"/>
<circle cx="447.50" cy="99.94" r="0.95" fill="#bdbdbd"/>
<circle cx="446.84" cy="82.94" r="0.95" fill="#bdbdbd"/>
<circle cx="447.03" cy="92.40" r="0.95" fill="#bdbdbd"/>
<circle cx="449.86" cy="94.28" r="0.95" fill="#bdbdbd"/>
<circle cx="448.22" cy="101.91" r="0.95" fill="#bdbdbd"/>
<circle cx="453.64" cy="105.01" r="0.95" fill="#bdbdbd"/>
<circle cx="457.88" cy="100.24" r="0.95" fill="#bdbdbd"/>
<circle cx="451.41" cy="101.23" r="0.95" fill="#bdbdbd"/>
<circle cx="458.61" cy="97.86" r="0.95" fill="#bdbdbd"/>
<circle cx="455.90" cy="96.85" r="0.95" fill="#bdbdbd"/>
<circle cx="450.86" cy="100.03" r="0.95" fill="#bdbdbd"/>
<circle cx="450.23" cy="96.98" r="0.95" fill="#bdbdbd"/>
<circle cx="454.06" cy="98.43" r="0.95" fill="#bdbdbd"/>
<circle cx="450.59" cy="83.68" r="0.95" fill="#bdbdbd"/>
<circle cx="456.83" cy="104.66" r="0.95" fill="#bdbdbd"/>
<circle cx="451.89" cy="83.24" r="0.95" fill="#bdbdbd"/>
<circle cx="450.02" cy="98.73" r="0.95" fill="#bdbdbd"/>
<circle cx="455.72" cy="106.54" r="0.95" fill="#bdbdbd"/>
<circle cx="446.48" cy="104.91" r="0.95" fill="#bdbdbd"/>
<circle cx="453.05" cy="96.43" r="0.95" fill="#bdbdbd"/>
<circle cx="454.87" cy="106.38" r="0.95" fill="#bdbdbd"/>
<circle cx="455.17" cy="101.74" r="0.95" fill="#bdbdbd"/>
<circle cx="452.39" cy="106.10" r="0.95" fill="#bdbdbd"/>
<circle cx="450.45" cy="100.42" r="0.95" fill="#bdbdbd"/>
<circle cx="446.97" cy="100.94" r="0.95" fill="#bdbdbd"/>
<circle cx="451.52" cy="93.42" r="0.95" fill="#bdbdbd"/>
<circle cx="449.63" cy="88.52" r="0.95" fill="#bdbdbd"/>
<circle cx="448.56" cy="101.48" r="0.95" fill="#bdbdbd"/>
<circle cx="453.94" cy="106.11" r="0.95" fill="#bdbdbd"/>
<circle cx="450.50" cy="93.85" r="0.95" fill="#bdbdbd"/>
<circle cx="459.36" cy="101.96" r="0.95" fill="#bdbdbd"/>
<circle cx="456.20" cy="98.66" r="0.95" fill="#bdbdbd"/>
<circle cx="450.70" cy="90.22" r="0.95" fill="#bdbdbd"/>
<circle cx="454.86" cy="98.18" r="0.95" fill="#bdbdbd"/>
<circle cx="443.34" cy="106.13" r="0.95" fill="#bdbdbd"/>
<circle cx="454.21" cy="90.74" r="0.95" fill="#bdbdbd"/>
<circle cx="443.65" cy="97.01" r="0.95" fill="#bdbdbd"/>
<circle cx="448.79" cy="93.97" r="0.95" fill="#bdbdbd"/>
<circle cx="451.64" cy="104.35" r="0.95" fill="#bdbdbd"/>
<circle cx="454.23" cy="100.28" r="0.95" fill="#bdbdbd"/>
<circle cx="457.96" cy="96.12" r="0.95" fill="#bdbdbd"/>
<circle cx="445.86" cy="102.05" r="0.95" fill="#bdbdbd"/>
<circle cx="446.94" cy="96.91" r="0.95" fill="#bdbdbd"/>
<circle cx="451.15" cy="106.55" r="0.95" fill="#bdbdbd"/>
<circle cx="453.61" cy="92.32" r="0.95" fill="#bdbdbd"/>
<circle cx="446.18" cy="106.39" r="0.95" fill="#bdbdbd"/>
<circle cx="450.64" cy="103.80" r="0.95" fill="#bdbdbd"/>
<circle cx="451.23" cy="99.76" r="0.95" fill="#bdbdbd"/>
<circle cx="454.52" cy="103.41" r="0.95" fill="#bdbdbd"/>
<circle cx="451.12" cy="100.55" r="0.95" fill="#bdbdbd"/>
<circle cx="450.75" cy="82.11" r="0.95" fill="#bdbdbd"/>
<circle cx="447.28" cy="106.26" r="0.95" fill="#bdbdbd"/>
<circle cx="445.03" cy="104.80" r="0.95" fill="#bdbdbd"/>
<circle cx="452.13" cy="94.20" r="0.95" fill="#bdbdbd"/>
<circle cx="450.42" cy="103.78" r="0.95" fill="#bdbdbd"/>
<circle cx="453.48" cy="101.09" r="0.95" fill="#bdbdbd"/>
<circle cx="451.34" cy="98.94" r="0.95" fill="#bdbdbd"/>
<circle cx="450.88" cy="106.01" r="0.95" fill="#bdbdbd"/>
<circle cx="454.66" cy="103.95" r="0.95" fill="#bdbdbd"/>
<circle cx="448.39" cy="94.41" r="0.95" fill="#bdbdbd"/>
<circle cx="449.90" cy="99.94" r="0.95" fill="#bdbdbd"/>
<circle cx="446.72" cy="105.56" r="0.95" fill="#bdbdbd"/>
<circle cx="449.39" cy="105.65" r="0.95" fill="#bdbdbd"/>
<circle cx="453.75" cy="102.88" r="0.95" fill="#bdbdbd"/>
<circle cx="461.49" cy="103.71" r="0.95" fill="#bdbdbd"/>
<circle cx="456.24" cy="105.51" r="0.95" fill="#bdbdbd"/>
<circle cx="456.30" cy="85.22" r="0.95" fill="#bdbdbd"/>
<circle cx="448.27" cy="104.38" r="0.95" fill="#bdbdbd"/>
<circle cx="454.09" cy="85.57" r="0.95" fill="#bdbdbd"/>
<circle cx="452.89" cy="95.08" r="0.95" fill="#bdbdbd"/>
<circle cx="454.80" cy="98.07" r="0.95" fill="#bdbdbd"/>
<circle cx="453.69" cy="105.20" r="0.95" fill="#bdbdbd"/>
<circle cx="453.69" cy="96.90" r="0.95" fill="#bdbdbd"/>
<circle cx="456.58" cy="97.45" r="0.95" fill="#bdbdbd"/>
<circle cx="452.57" cy="87.51" r="0.95" fill="#bdbdbd"/>
<circle cx="450.54" cy="106.42" r="0.95" fill="#bdbdbd"/>
<circle cx="456.50" cy="106.36" r="0.95" fill="#bdbdbd"/>
<circle cx="448.03" cy="104.28" r="0.95" fill="#bdbdbd"/>
<circle cx="454.00" cy="100.21" r="0.95" fill="#bdbdbd"/>
<circle cx="448.18" cy="90.83" r="0.95" fill="#bdbdbd"/>
<circle cx="458.67" cy="106.44" r="0.95" fill="#bdbdbd"/>
<circle cx="452.65" cy="102.74" r="0.95" fill="#bdbdbd"/>
<circle cx="457.58" cy="100.26" r="0.95" fill="#bdbdbd"/>
<circle cx="454.40" cy="102.28" r="0.95" fill="#bdbdbd"/>
<circle cx="448.52" cy="100.13" r="0.95" fill="#bdbdbd"/>
<circle cx="457.24" cy="106.51" r="0.95" fill="#bdbdbd"/>
<circle cx="448.59" cy="99.30" r="0.95" fill="#bdbdbd"/>
<circle cx="451.29" cy="103.80" r="0.95" fill="#bdbdbd"/>
<circle cx="458.05" cy="96.42" r="0.95" fill="#bdbdbd"/>
<circle cx="449.26" cy="86.05" r="0.95" fill="#bdbdbd"/>
<circle cx="451.51" cy="99.53" r="0.95" fill="#bdbdbd"/>
<circle cx="448.72" cy="106.20" r="0.95" fill="#bdbdbd"/>
<circle cx="443.98" cy="90.52" r="0.95" fill="#bdbdbd"/>
<circle cx="457.37" cy="95.66" r="0.95" fill="#bdbdbd"/>
<circle cx="445.03" cy="92.01" r="0.95" fill="#bdbdbd"/>
<circle cx="456.56" cy="102.46" r="0.95" fill="#bdbdbd"/>
<circle cx="451.24" cy="103.79" r="0.95" fill="#bdbdbd"/>
<circle cx="450.98" cy="96.81" r="0.95" fill="#bdbdbd"/>
<circle cx="451.60" cy="93.66" r="0.95" fill="#bdbdbd"/>
<circle cx="451.19" cy="103.82" r="0.95" fill="#bdbdbd"/>
<circle cx="453.51" cy="104.51" r="0.95" fill="#bdbdbd"/>
<circle cx="447.61" cy="105.16" r="0.95" fill="#bdbdbd"/>
<circle cx="449.42" cy="92.51" r="0.95" fill="#bdbdbd"/>
<circle cx="454.80" cy="105.56" r="0.95" fill="#bdbdbd"/>
<circle cx="449.47" cy="100.28" r="0.95" fill="#bdbdbd"/>
<circle cx="447.47" cy="103.42" r="0.95" fill="#bdbdbd"/>
<circle cx="452.77" cy="101.96" r="0.95" fill="#bdbdbd"/>
<circle cx="453.95" cy="87.71" r="0.95" fill="#bdbdbd"/>
<circle cx="448.47" cy="106.48" r="0.95" fill="#bdbdbd"/>
<circle cx="463.52" cy="89.80" r="0.95" fill="#bdbdbd"/>
<circle cx="449.26" cy="105.07" r="0.95" fill="#bdbdbd"/>
<circle cx="452.16" cy="102.93" r="0.95" fill="#bdbdbd"/>
<circle cx="450.47" cy="103.30" r="0.95" fill="#bdbdbd"/>
<circle cx="451.73" cy="99.66" r="0.95" fill="#bdbdbd"/>
<circle cx="443.36" cy="98.63" r="0.95" fill="#bdbdbd"/>
<circle cx="451.49" cy="97.31" r="0.95" fill="#bdbdbd"/>
<circle cx="447.01" cy="100.95" r="0.95" fill="#bdbdbd"/>
<circle cx="448.71" cy="100.89" r="0.95" fill="#bdbdbd"/>
<circle cx="454.71" cy="103.84" r="0.95" fill="#bdbdbd"/>
<circle cx="453.68" cy="105.66" r="0.95" fill="#bdbdbd"/>
<circle cx="445.44" cy="106.33" r="0.95" fill="#bdbdbd"/>
<circle cx="453.45" cy="101.84" r="0.95" fill="#bdbdbd"/>
<circle cx="451.07" cy="99.86" r="0.95" fill="#bdbdbd"/>
<circle cx="447.72" cy="100.84" r="0.95" fill="#bdbdbd"/>
<circle cx="459.51" cy="101.61" r="0.95" fill="#bdbdbd"/>
<circle cx="452.13" cy="105.25" r="0.95" fill="#bdbdbd"/>
<circle cx="458.12" cy="103.75" r="0.95" fill="#bdbdbd"/>
<circle cx="455.36" cy="100.39" r="0.95" fill="#bdbdbd"/>
<circle cx="451.43" cy="106.51" r="0.95" fill="#bdbdbd"/>
<circle cx="443.86" cy="93.63" r="0.95" fill="#bdbdbd"/>
<circle cx="455.37" cy="90.86" r="0.95" fill="#bdbdbd"/>
<circle cx="454.70" cy="105.42" r="0.95" fill="#bdbdbd"/>
<circle cx="453.43" cy="103.30" r="0.95" fill="#bdbdbd"/>
<circle cx="445.05" cy="104.69" r="0.95" fill="#bdbdbd"/>
<circle cx="457.92" cy="101.43" r="0.95" fill="#bdbdbd"/>
<circle cx="447.10" cy="94.36" r="0.95" fill="#bdbdbd"/>
<circle cx="442.95" cy="82.95" r="0.95" fill="#bdbdbd"/>
<circle cx="453.85" cy="100.78" r="0.95" fill="#bdbdbd"/>
<circle cx="453.22" cy="97.49" r="0.95" fill="#bdbdbd"/>
<circle cx="467.14" cy="89.29" r="0.95" fill="#bdbdbd"/>
<circle cx="455.20" cy="97.27" r="0.95" fill="#bdbdbd"/>
<circle cx="455.34" cy="98.77" r="0.95" fill="#bdbdbd"/>
<circle cx="453.54" cy="94.59" r="0.95" fill="#bdbdbd"/>
<circle cx="453.23" cy="95.99" r="0.95" fill="#bdbdbd"/>
<circle cx="447.70" cy="96.43" r="0.95" fill="#bdbdbd"/>
<circle cx="454.72" cy="82.25" r="0.95" fill="#bdbdbd"/>
<circle cx="449.03" cy="105.01" r="0.95" fill="#bdbdbd"/>
<circle cx="458.87" cy="97.47" r="0.95" fill="#bdbdbd"/>
<circle cx="457.42" cy="87.63" r="0.95" fill="#bdbdbd"/>
<circle cx="446.20" cy="87.93" r="0.95" fill="#bdbdbd"/>
<circle cx="462.10" cy="89.38" r="0.95" fill="#bdbdbd"/>
<circle cx="448.82" cy="82.52" r="0.95" fill="#bdbdbd"/>
<circle cx="441.01" cy="92.08" r="0.95" fill="#bdbdbd"/>
<circle cx="451.61" cy="88.17" r="0.95" fill="#bdbdbd"/>
<circle cx="443.59" cy="87.44" r="0.95" fill="#bdbdbd"/>
<circle cx="437.66" cy="82.82" r="0.95" fill="#bdbdbd"/>
<circle cx="447.66" cy="98.38" r="0.95" fill="#bdbdbd"/>
<circle cx="457.72" cy="86.75" r="0.95" fill="#bdbdbd"/>
<circle cx="454.84" cy="94.12" r="0.95" fill="#bdbdbd"/>
<circle cx="440.52" cy="86.93" r="0.95" fill="#bdbdbd"/>
<circle cx="457.44" cy="101.68" r="0.95" fill="#bdbdbd"/>
<circle cx="450.36" cy="87.54" r="0.95" fill="#bdbdbd"/>
<circle cx="453.61" cy="89.08" r="0.95" fill="#bdbdbd"/>
<circle cx="463.14" cy="104.85" r="0.95" fill="#bdbdbd"/>
<circle cx="446.99" cy="87.36" r="0.95" fill="#bdbdbd"/>
<circle cx="451.62" cy="92.01" r="0.95" fill="#bdbdbd"/>
<circle cx="442.84" cy="85.51" r="0.95" fill="#bdbdbd"/>
<circle cx="436.80" cy="91.44" r="0.95" fill="#bdbdbd"/>
<circle cx="455.87" cy="85.41" r="0.95" fill="#bdbdbd"/>
<circle cx="469.91" cy="83.24" r="0.95" fill="#bdbdbd"/>
<circle cx="458.00" cy="103.56" r="0.95" fill="#bdbdbd"/>
<circle cx="454.08" cy="103.21" r="0.95" fill="#bdbdbd"/>
<circle cx="448.87" cy="104.36" r="0.95" fill="#bdbdbd"/>
<circle cx="457.97" cy="99.91" r="0.95" fill="#bdbdbd"/>
<circle cx="466.58" cy="82.77" r="0.95" fill="#bdbdbd"/>
<circle cx="448.00" cy="90.97" r="0.95" fill="#bdbdbd"/>
<circle cx="445.63" cy="89.96" r="0.95" fill="#bdbdbd"/>
<circle cx="451.76" cy="88.72" r="0.95" fill="#bdbdbd"/>
<circle cx="451.96" cy="90.44" r="0.95" fill="#bdbdbd"/>
<circle cx="454.96" cy="105.14" r="0.95" fill="#bdbdbd"/>
<circle cx="450.51" cy="86.98" r="0.95" fill="#bdbdbd"/>
<circle cx="443.43" cy="101.73" r="0.95" fill="#bdbdbd"/>
<circle cx="461.69" cy="92.38" r="0.95" fill="#bdbdbd"/>
<circle cx="459.05" cy="90.95" r="0.95" fill="#bdbdbd"/>
<circle cx="453.91" cy="104.07" r="0.95" fill="#bdbdbd"/>
<circle cx="453.83" cy="103.53" r="0.95" fill="#bdbdbd"/>
<circle cx="457.74" cy="82.73" r="0.95" fill="#bdbdbd"/>
<circle cx="440.66" cy="100.40" r="0.95" fill="#bdbdbd"/>
<circle cx="458.30" cy="82.98" r="0.95" fill="#bdbdbd"/>
<circle cx="453.96" cy="104.08" r="0.95" fill="#bdbdbd"/>
<circle cx="452.05" cy="88.17" r="0.95" fill="#bdbdbd"/>
<circle cx="451.24" cy="90.14" r="0.95" fill="#bdbdbd"/>
<circle cx="436.53" cy="88.54" r="0.95" fill="#bdbdbd"/>
<circle cx="460.86" cy="88.29" r="0.95" fill="#bdbdbd"/>
<circle cx="448.95" cy="99.20" r="0.95" fill="#bdbdbd"/>
<circle cx="449.22" cy="82.09" r="0.95" fill="#bdbdbd"/>
<circle cx="456.64" cy="100.14" r="0.95" fill="#bdbdbd"/>
<circle cx="460.09" cy="104.64" r="0.95" fill="#bdbdbd"/>
<circle cx="446.53" cy="82.58" r="0.95" fill="#bdbdbd"/>
<circle cx="452.30" cy="104.96" r="0.95" fill="#bdbdbd"/>
<circle cx="459.41" cy="104.89" r="0.95" fill="#bdbdbd"/>
<circle cx="447.47" cy="92.32" r="0.95" fill="#bdbdbd"/>
<circle cx="454.98" cy="93.84" r="0.95" fill="#bdbdbd"/>
<circle cx="455.50" cy="101.26" r="0.95" fill="#bdbdbd"/>
<circle cx="449.56" cy="99.72" r="0.95" fill="#bdbdbd"/>
<circle cx="456.82" cy="96.57" r="0.95" fill="#bdbdbd"/>
<circle cx="440.69" cy="89.87" r="0.95" fill="#bdbdbd"/>
<circle cx="448.69" cy="100.77" r="0.95" fill="#bdbdbd"/>
<circle cx="457.51" cy="83.90" r="0.95" fill="#bdbdbd"/>
<circle cx="455.30" cy="87.94" r="0.95" fill="#bdbdbd"/>
<circle cx="462.57" cy="83.55" r="0.95" fill="#bdbdbd"/>
<circle cx="460.18" cy="89.82" r="0.95" fill="#bdbdbd"/>
<circle cx="453.37" cy="105.53" r="0.95" fill="#bdbdbd"/>
<circle cx="466.96" cy="88.36" r="0.95" fill="#bdbdbd"/>
<circle cx="437.61" cy="84.02" r="0.95" fill="#bdbdbd"/>
<circle cx="458.26" cy="99.03" r="0.95" fill="#bdbdbd"/>
<circle cx="381.00" cy="102.00" r="0.9" fill="#bdbdbd"/>
<circle cx="409.00" cy="102.00" r="0.9" fill="#bdbdbd"/>
<circle cx="421.00" cy="101.60" r="0.9" fill="#bdbdbd"/>
<circle cx="423.00" cy="101.20" r="0.9" fill="#bdbdbd"/>
<circle cx="433.00" cy="101.70" r="0.9" fill="#bdbdbd"/>
<circle cx="427.00" cy="91.00" r="0.9" fill="#bdbdbd"/>
<circle cx="429.70" cy="89.00" r="0.9" fill="#bdbdbd"/>
<circle cx="423.00" cy="98.00" r="0.9" fill="#bdbdbd"/>
<circle cx="432.00" cy="103.00" r="0.9" fill="#bdbdbd"/>
<circle cx="480.70" cy="84.40" r="0.9" fill="#bdbdbd"/>
<circle cx="474.00" cy="89.60" r="0.9" fill="#bdbdbd"/>
<circle cx="476.00" cy="92.60" r="0.9" fill="#bdbdbd"/>
<circle cx="509.00" cy="88.60" r="0.9" fill="#bdbdbd"/>
<circle cx="489.50" cy="94.30" r="0.9" fill="#bdbdbd"/>
<circle cx="487.40" cy="99.60" r="0.9" fill="#bdbdbd"/>
<circle cx="496.00" cy="99.60" r="0.9" fill="#bdbdbd"/>
<circle cx="469.00" cy="101.70" r="0.9" fill="#bdbdbd"/>
<circle cx="468.00" cy="101.00" r="0.9" fill="#bdbdbd"/>
<circle cx="475.00" cy="93.00" r="0.9" fill="#bdbdbd"/>
<circle cx="438.00" cy="84.00" r="0.9" fill="#bdbdbd"/>
<circle cx="440.00" cy="81.00" r="0.9" fill="#bdbdbd"/>
<circle cx="462.00" cy="82.00" r="0.9" fill="#bdbdbd"/>
<circle cx="466.00" cy="86.00" r="0.9" fill="#bdbdbd"/>
<circle cx="442.00" cy="95.00" r="0.9" fill="#bdbdbd"/>
<circle cx="436.00" cy="99.00" r="0.9" fill="#bdbdbd"/>
<circle cx="437.70" cy="19.40" r="1.0" fill="#2f86e8"/>
<circle cx="445.00" cy="35.40" r="1.0" fill="#2f86e8"/>
<circle cx="447.50" cy="48.70" r="1.0" fill="#2f86e8"/>
<circle cx="445.80" cy="65.50" r="1.0" fill="#2f86e8"/>
<circle cx="444.50" cy="68.00" r="1.0" fill="#2f86e8"/>
<circle cx="446.00" cy="70.50" r="1.0" fill="#2f86e8"/>
<circle cx="447.50" cy="73.00" r="1.0" fill="#2f86e8"/>
<circle cx="448.00" cy="75.50" r="1.0" fill="#2f86e8"/>
<circle cx="445.00" cy="74.50" r="1.0" fill="#2f86e8"/>
<circle cx="446.80" cy="62.50" r="1.0" fill="#2f86e8"/>
<circle cx="448.50" cy="67.00" r="1.0" fill="#2f86e8"/>
<circle cx="444.00" cy="66.00" r="1.0" fill="#2f86e8"/>
<circle cx="470.80" cy="34.70" r="1.0" fill="#d00000"/>
<circle cx="508.30" cy="34.70" r="1.0" fill="#d00000"/>
<circle cx="468.40" cy="42.00" r="1.0" fill="#d00000"/>
<circle cx="467.60" cy="48.20" r="1.0" fill="#d00000"/>
<circle cx="467.20" cy="50.80" r="1.0" fill="#d00000"/>
<circle cx="476.50" cy="51.40" r="1.0" fill="#d00000"/>
<circle cx="492.50" cy="63.80" r="1.0" fill="#d00000"/>
<circle cx="455.70" cy="58.60" r="1.0" fill="#d00000"/>
<circle cx="457.00" cy="64.00" r="1.0" fill="#d00000"/>
<circle cx="453.80" cy="65.00" r="1.0" fill="#d00000"/>
<circle cx="455.00" cy="67.50" r="1.0" fill="#d00000"/>
<circle cx="456.00" cy="70.00" r="1.0" fill="#d00000"/>
<circle cx="461.70" cy="67.00" r="1.0" fill="#d00000"/>
<circle cx="458.50" cy="73.00" r="1.0" fill="#d00000"/>
<circle cx="455.00" cy="74.00" r="1.0" fill="#d00000"/>
<circle cx="457.00" cy="75.50" r="1.0" fill="#d00000"/>
<circle cx="463.00" cy="75.00" r="1.0" fill="#d00000"/>
<circle cx="453.50" cy="72.00" r="1.0" fill="#d00000"/>
<g transform="translate(414.30,24.00) scale(0.88,1)"><text font-size="4.5" fill="#4a8ee0" stroke="#4a8ee0" stroke-width="0.09">Glycerol 3-phosphate</text></g>
<g transform="translate(434.00,40.30) scale(0.88,1)"><text font-size="4.5" fill="#4a8ee0" stroke="#4a8ee0" stroke-width="0.09">Aniline</text></g>
<g transform="translate(438.00,47.00) scale(0.88,1)"><text font-size="4.5" fill="#4a8ee0" stroke="#4a8ee0" stroke-width="0.09">Allose</text></g>
<g transform="translate(426.00,61.80) scale(0.88,1)"><text font-size="4.5" fill="#d02626" stroke="#d02626" stroke-width="0.09">Palmitoleic acid</text></g>
<g transform="translate(450.80,33.10) scale(0.88,1)"><text font-size="4.5" fill="#d02626" stroke="#d02626" stroke-width="0.09">5'-Methoxy aureol</text></g>
<g transform="translate(490.00,33.10) scale(0.88,1)"><text font-size="4.5" fill="#d02626" stroke="#d02626" stroke-width="0.09">PS 20:3_20:3</text></g>
<g transform="translate(461.40,40.90) scale(0.88,1)"><text font-size="4.5" fill="#d02626" stroke="#d02626" stroke-width="0.09">Linolenic acid</text></g>
<g transform="translate(451.50,47.20) scale(0.88,1)"><text font-size="4.5" fill="#d02626" stroke="#d02626" stroke-width="0.09">Vanillin-4-sulfate</text></g>
<g transform="translate(478.70,53.10) scale(0.88,1)"><text font-size="4.5" fill="#d02626" stroke="#d02626" stroke-width="0.09">SL 10:0;O/25:0;O</text></g>
<g transform="translate(450.10,56.10) scale(0.88,1)"><text font-size="4.5" fill="#d02626" stroke="#d02626" stroke-width="0.09">Corticosterone</text></g>
<g transform="translate(457.60,63.40) scale(0.88,1)"><text font-size="4.5" fill="#d02626" stroke="#d02626" stroke-width="0.09">Linoleic acid</text></g>
<g transform="translate(482.50,62.10) scale(0.88,1)"><text font-size="4.5" fill="#d02626" stroke="#d02626" stroke-width="0.09">NAGly 10:0/10:0</text></g>
<rect x="375.30" y="15.20" width="140.00" height="94.90" fill="none" stroke="#aaaaaa" stroke-width="0.8"/>
<line x1="409.60" y1="110.10" x2="409.60" y2="111.60" stroke="#444" stroke-width="0.5"/>
<g transform="translate(409.60,115.75) scale(0.9,1)"><text font-size="3.556" text-anchor="middle" fill="#444" stroke="#444" stroke-width="0.04">-5</text></g>
<line x1="450.40" y1="110.10" x2="450.40" y2="111.60" stroke="#444" stroke-width="0.5"/>
<g transform="translate(450.40,115.75) scale(0.9,1)"><text font-size="3.556" text-anchor="middle" fill="#444" stroke="#444" stroke-width="0.04">0</text></g>
<line x1="491.70" y1="110.10" x2="491.70" y2="111.60" stroke="#444" stroke-width="0.5"/>
<g transform="translate(491.70,115.75) scale(0.9,1)"><text font-size="3.556" text-anchor="middle" fill="#444" stroke="#444" stroke-width="0.04">5</text></g>
<line x1="373.80" y1="106.30" x2="375.30" y2="106.30" stroke="#444" stroke-width="0.5"/>
<g transform="translate(373.30,107.52) scale(0.9,1)"><text font-size="3.778" text-anchor="end" fill="#555" stroke="#555" stroke-width="0.04">0</text></g>
<line x1="373.80" y1="84.20" x2="375.30" y2="84.20" stroke="#444" stroke-width="0.5"/>
<g transform="translate(373.30,85.42) scale(0.9,1)"><text font-size="3.778" text-anchor="end" fill="#555" stroke="#555" stroke-width="0.04">1</text></g>
<line x1="373.80" y1="62.10" x2="375.30" y2="62.10" stroke="#444" stroke-width="0.5"/>
<g transform="translate(373.30,63.32) scale(0.9,1)"><text font-size="3.778" text-anchor="end" fill="#555" stroke="#555" stroke-width="0.04">2</text></g>
<line x1="373.80" y1="40.00" x2="375.30" y2="40.00" stroke="#444" stroke-width="0.5"/>
<g transform="translate(373.30,41.22) scale(0.9,1)"><text font-size="3.778" text-anchor="end" fill="#555" stroke="#555" stroke-width="0.04">3</text></g>
<line x1="373.80" y1="17.90" x2="375.30" y2="17.90" stroke="#444" stroke-width="0.5"/>
<g transform="translate(373.30,19.12) scale(0.9,1)"><text font-size="3.778" text-anchor="end" fill="#555" stroke="#555" stroke-width="0.04">4</text></g>
<g transform="translate(369.00,62.50) rotate(-90) scale(0.9,1)"><text font-size="4.556" text-anchor="middle" fill="#333" stroke="#333" stroke-width="0.04">-log10(p)</text></g>
<g transform="translate(445.50,119.78) scale(0.9,1)"><text font-size="4.556" text-anchor="middle" fill="#333" stroke="#333" stroke-width="0.04">log2(FC)</text></g>
<text x="391.00" y="76.20" font-size="8.1" text-anchor="start" fill="#111" font-weight="bold">17 reduced</text>
<text x="466.60" y="76.30" font-size="8.1" text-anchor="start" fill="#111" font-weight="bold">27 increased</text>
<text x="364.20" y="13.30" font-size="8" text-anchor="start" fill="#000" font-weight="bold">C</text>
<g transform="translate(522.00,54.15) scale(0.9,1)"><text font-size="4.2" fill="#333" stroke="#333" stroke-width="0.05">Status</text></g>
<circle cx="524.60" cy="59.45" r="1.05" fill="#2f86e8"/>
<g transform="translate(529.80,60.70) scale(0.88,1)"><text font-size="3.6" fill="#444" stroke="#444" stroke-width="0.05">DOWN</text></g>
<circle cx="524.60" cy="65.80" r="0.65" fill="#aaaaaa"/>
<g transform="translate(529.80,67.05) scale(0.88,1)"><text font-size="3.6" fill="#444" stroke="#444" stroke-width="0.05">Non-SIG</text></g>
<circle cx="524.60" cy="72.15" r="1.05" fill="#d00000"/>
<g transform="translate(529.80,73.40) scale(0.88,1)"><text font-size="3.6" fill="#444" stroke="#444" stroke-width="0.05">UP</text></g>
<rect x="379.3" y="168.0" width="138.2" height="95.5" fill="#fff"/>
<line x1="379.30" y1="259.20" x2="517.50" y2="259.20" stroke="#ebebeb" stroke-width="0.6"/>
<line x1="379.30" y1="240.50" x2="517.50" y2="240.50" stroke="#ebebeb" stroke-width="0.6"/>
<line x1="379.30" y1="221.00" x2="517.50" y2="221.00" stroke="#ebebeb" stroke-width="0.6"/>
<line x1="379.30" y1="202.40" x2="517.50" y2="202.40" stroke="#ebebeb" stroke-width="0.6"/>
<line x1="379.30" y1="183.40" x2="517.50" y2="183.40" stroke="#ebebeb" stroke-width="0.6"/>
<line x1="379.30" y1="249.85" x2="517.50" y2="249.85" stroke="#f4f4f4" stroke-width="0.4"/>
<line x1="379.30" y1="230.75" x2="517.50" y2="230.75" stroke="#f4f4f4" stroke-width="0.4"/>
<line x1="379.30" y1="211.70" x2="517.50" y2="211.70" stroke="#f4f4f4" stroke-width="0.4"/>
<line x1="379.30" y1="192.90" x2="517.50" y2="192.90" stroke="#f4f4f4" stroke-width="0.4"/>
<line x1="386.60" y1="168.00" x2="386.60" y2="263.50" stroke="#ebebeb" stroke-width="0.6"/>
<line x1="421.70" y1="168.00" x2="421.70" y2="263.50" stroke="#ebebeb" stroke-width="0.6"/>
<line x1="456.80" y1="168.00" x2="456.80" y2="263.50" stroke="#ebebeb" stroke-width="0.6"/>
<line x1="491.80" y1="168.00" x2="491.80" y2="263.50" stroke="#ebebeb" stroke-width="0.6"/>
<line x1="404.15" y1="168.00" x2="404.15" y2="263.50" stroke="#f4f4f4" stroke-width="0.4"/>
<line x1="439.25" y1="168.00" x2="439.25" y2="263.50" stroke="#f4f4f4" stroke-width="0.4"/>
<line x1="474.30" y1="168.00" x2="474.30" y2="263.50" stroke="#f4f4f4" stroke-width="0.4"/>
<line x1="509.35" y1="168.00" x2="509.35" y2="263.50" stroke="#f4f4f4" stroke-width="0.4"/>
<line x1="456.80" y1="168.00" x2="456.80" y2="263.50" stroke="#555" stroke-width="0.6"/>
<line x1="379.30" y1="209.70" x2="517.50" y2="209.70" stroke="#a0a0a0" stroke-width="0.7"/>
<circle cx="460.68" cy="255.65" r="0.95" fill="#bdbdbd"/>
<circle cx="457.67" cy="255.24" r="0.95" fill="#bdbdbd"/>
<circle cx="460.86" cy="255.59" r="0.95" fill="#bdbdbd"/>
<circle cx="445.67" cy="256.88" r="0.95" fill="#bdbdbd"/>
<circle cx="447.52" cy="257.31" r="0.95" fill="#bdbdbd"/>
<circle cx="465.26" cy="255.92" r="0.95" fill="#bdbdbd"/>
<circle cx="464.71" cy="255.29" r="0.95" fill="#bdbdbd"/>
<circle cx="464.20" cy="256.39" r="0.95" fill="#bdbdbd"/>
<circle cx="461.01" cy="256.21" r="0.95" fill="#bdbdbd"/>
<circle cx="460.04" cy="256.98" r="0.95" fill="#bdbdbd"/>
<circle cx="449.88" cy="255.83" r="0.95" fill="#bdbdbd"/>
<circle cx="462.24" cy="257.15" r="0.95" fill="#bdbdbd"/>
<circle cx="455.60" cy="256.37" r="0.95" fill="#bdbdbd"/>
<circle cx="468.64" cy="254.80" r="0.95" fill="#bdbdbd"/>
<circle cx="438.37" cy="256.93" r="0.95" fill="#bdbdbd"/>
<circle cx="460.76" cy="256.84" r="0.95" fill="#bdbdbd"/>
<circle cx="443.83" cy="256.40" r="0.95" fill="#bdbdbd"/>
<circle cx="454.97" cy="256.09" r="0.95" fill="#bdbdbd"/>
<circle cx="459.40" cy="257.00" r="0.95" fill="#bdbdbd"/>
<circle cx="447.94" cy="255.09" r="0.95" fill="#bdbdbd"/>
<circle cx="466.10" cy="255.61" r="0.95" fill="#bdbdbd"/>
<circle cx="457.71" cy="256.54" r="0.95" fill="#bdbdbd"/>
<circle cx="439.36" cy="257.05" r="0.95" fill="#bdbdbd"/>
<circle cx="461.81" cy="255.79" r="0.95" fill="#bdbdbd"/>
<circle cx="452.64" cy="255.90" r="0.95" fill="#bdbdbd"/>
<circle cx="458.84" cy="256.38" r="0.95" fill="#bdbdbd"/>
<circle cx="461.15" cy="255.26" r="0.95" fill="#bdbdbd"/>
<circle cx="450.05" cy="256.23" r="0.95" fill="#bdbdbd"/>
<circle cx="457.01" cy="255.64" r="0.95" fill="#bdbdbd"/>
<circle cx="465.33" cy="256.47" r="0.95" fill="#bdbdbd"/>
<circle cx="461.56" cy="256.61" r="0.95" fill="#bdbdbd"/>
<circle cx="467.94" cy="255.92" r="0.95" fill="#bdbdbd"/>
<circle cx="455.25" cy="256.85" r="0.95" fill="#bdbdbd"/>
<circle cx="460.18" cy="255.11" r="0.95" fill="#bdbdbd"/>
<circle cx="452.90" cy="256.60" r="0.95" fill="#bdbdbd"/>
<circle cx="458.27" cy="255.92" r="0.95" fill="#bdbdbd"/>
<circle cx="449.23" cy="256.06" r="0.95" fill="#bdbdbd"/>
<circle cx="461.87" cy="256.86" r="0.95" fill="#bdbdbd"/>
<circle cx="454.24" cy="255.51" r="0.95" fill="#bdbdbd"/>
<circle cx="453.33" cy="254.82" r="0.95" fill="#bdbdbd"/>
<circle cx="463.01" cy="256.96" r="0.95" fill="#bdbdbd"/>
<circle cx="455.86" cy="256.62" r="0.95" fill="#bdbdbd"/>
<circle cx="466.68" cy="256.22" r="0.95" fill="#bdbdbd"/>
<circle cx="456.73" cy="256.88" r="0.95" fill="#bdbdbd"/>
<circle cx="451.74" cy="256.55" r="0.95" fill="#bdbdbd"/>
<circle cx="449.54" cy="256.86" r="0.95" fill="#bdbdbd"/>
<circle cx="450.78" cy="256.27" r="0.95" fill="#bdbdbd"/>
<circle cx="457.03" cy="255.11" r="0.95" fill="#bdbdbd"/>
<circle cx="452.81" cy="256.49" r="0.95" fill="#bdbdbd"/>
<circle cx="454.38" cy="255.65" r="0.95" fill="#bdbdbd"/>
<circle cx="451.32" cy="255.75" r="0.95" fill="#bdbdbd"/>
<circle cx="455.89" cy="256.00" r="0.95" fill="#bdbdbd"/>
<circle cx="464.31" cy="256.54" r="0.95" fill="#bdbdbd"/>
<circle cx="454.48" cy="254.76" r="0.95" fill="#bdbdbd"/>
<circle cx="456.75" cy="256.72" r="0.95" fill="#bdbdbd"/>
<circle cx="455.04" cy="257.54" r="0.95" fill="#bdbdbd"/>
<circle cx="467.97" cy="257.11" r="0.95" fill="#bdbdbd"/>
<circle cx="454.77" cy="257.92" r="0.95" fill="#bdbdbd"/>
<circle cx="461.26" cy="254.88" r="0.95" fill="#bdbdbd"/>
<circle cx="465.82" cy="255.11" r="0.95" fill="#bdbdbd"/>
<circle cx="447.04" cy="256.95" r="0.95" fill="#bdbdbd"/>
<circle cx="466.39" cy="256.34" r="0.95" fill="#bdbdbd"/>
<circle cx="463.02" cy="257.06" r="0.95" fill="#bdbdbd"/>
<circle cx="445.18" cy="256.43" r="0.95" fill="#bdbdbd"/>
<circle cx="460.48" cy="255.42" r="0.95" fill="#bdbdbd"/>
<circle cx="460.98" cy="255.89" r="0.95" fill="#bdbdbd"/>
<circle cx="458.40" cy="256.22" r="0.95" fill="#bdbdbd"/>
<circle cx="467.24" cy="256.39" r="0.95" fill="#bdbdbd"/>
<circle cx="454.78" cy="254.96" r="0.95" fill="#bdbdbd"/>
<circle cx="451.50" cy="257.68" r="0.95" fill="#bdbdbd"/>
<circle cx="459.17" cy="257.00" r="0.95" fill="#bdbdbd"/>
<circle cx="462.38" cy="255.13" r="0.95" fill="#bdbdbd"/>
<circle cx="452.96" cy="255.91" r="0.95" fill="#bdbdbd"/>
<circle cx="462.86" cy="255.47" r="0.95" fill="#bdbdbd"/>
<circle cx="452.34" cy="255.73" r="0.95" fill="#bdbdbd"/>
<circle cx="449.60" cy="256.04" r="0.95" fill="#bdbdbd"/>
<circle cx="456.58" cy="255.52" r="0.95" fill="#bdbdbd"/>
<circle cx="450.48" cy="256.33" r="0.95" fill="#bdbdbd"/>
<circle cx="467.84" cy="256.37" r="0.95" fill="#bdbdbd"/>
<circle cx="448.39" cy="256.59" r="0.95" fill="#bdbdbd"/>
<circle cx="463.16" cy="256.53" r="0.95" fill="#bdbdbd"/>
<circle cx="458.29" cy="255.88" r="0.95" fill="#bdbdbd"/>
<circle cx="457.30" cy="255.31" r="0.95" fill="#bdbdbd"/>
<circle cx="458.98" cy="257.30" r="0.95" fill="#bdbdbd"/>
<circle cx="458.52" cy="257.33" r="0.95" fill="#bdbdbd"/>
<circle cx="461.62" cy="256.37" r="0.95" fill="#bdbdbd"/>
<circle cx="447.75" cy="257.09" r="0.95" fill="#bdbdbd"/>
<circle cx="458.77" cy="254.79" r="0.95" fill="#bdbdbd"/>
<circle cx="467.93" cy="257.23" r="0.95" fill="#bdbdbd"/>
<circle cx="466.42" cy="257.50" r="0.95" fill="#bdbdbd"/>
<circle cx="455.72" cy="256.41" r="0.95" fill="#bdbdbd"/>
<circle cx="451.78" cy="257.12" r="0.95" fill="#bdbdbd"/>
<circle cx="455.07" cy="257.92" r="0.95" fill="#bdbdbd"/>
<circle cx="451.81" cy="256.92" r="0.95" fill="#bdbdbd"/>
<circle cx="466.62" cy="256.47" r="0.95" fill="#bdbdbd"/>
<circle cx="454.91" cy="255.40" r="0.95" fill="#bdbdbd"/>
<circle cx="465.48" cy="257.12" r="0.95" fill="#bdbdbd"/>
<circle cx="468.53" cy="255.97" r="0.95" fill="#bdbdbd"/>
<circle cx="468.71" cy="256.79" r="0.95" fill="#bdbdbd"/>
<circle cx="462.49" cy="256.68" r="0.95" fill="#bdbdbd"/>
<circle cx="453.69" cy="256.12" r="0.95" fill="#bdbdbd"/>
<circle cx="464.29" cy="256.11" r="0.95" fill="#bdbdbd"/>
<circle cx="457.74" cy="256.40" r="0.95" fill="#bdbdbd"/>
<circle cx="459.78" cy="257.31" r="0.95" fill="#bdbdbd"/>
<circle cx="451.89" cy="256.59" r="0.95" fill="#bdbdbd"/>
<circle cx="453.40" cy="256.29" r="0.95" fill="#bdbdbd"/>
<circle cx="452.62" cy="255.08" r="0.95" fill="#bdbdbd"/>
<circle cx="454.09" cy="255.17" r="0.95" fill="#bdbdbd"/>
<circle cx="466.97" cy="255.21" r="0.95" fill="#bdbdbd"/>
<circle cx="452.87" cy="256.48" r="0.95" fill="#bdbdbd"/>
<circle cx="456.08" cy="243.82" r="0.95" fill="#bdbdbd"/>
<circle cx="457.22" cy="243.83" r="0.95" fill="#bdbdbd"/>
<circle cx="462.46" cy="253.96" r="0.95" fill="#bdbdbd"/>
<circle cx="455.51" cy="255.61" r="0.95" fill="#bdbdbd"/>
<circle cx="452.66" cy="249.91" r="0.95" fill="#bdbdbd"/>
<circle cx="464.15" cy="240.60" r="0.95" fill="#bdbdbd"/>
<circle cx="459.99" cy="256.21" r="0.95" fill="#bdbdbd"/>
<circle cx="463.92" cy="244.61" r="0.95" fill="#bdbdbd"/>
<circle cx="456.90" cy="252.48" r="0.95" fill="#bdbdbd"/>
<circle cx="454.16" cy="254.14" r="0.95" fill="#bdbdbd"/>
<circle cx="457.51" cy="249.14" r="0.95" fill="#bdbdbd"/>
<circle cx="462.52" cy="246.67" r="0.95" fill="#bdbdbd"/>
<circle cx="459.73" cy="252.71" r="0.95" fill="#bdbdbd"/>
<circle cx="456.04" cy="254.64" r="0.95" fill="#bdbdbd"/>
<circle cx="463.98" cy="255.86" r="0.95" fill="#bdbdbd"/>
<circle cx="457.55" cy="253.88" r="0.95" fill="#bdbdbd"/>
<circle cx="459.19" cy="252.50" r="0.95" fill="#bdbdbd"/>
<circle cx="460.01" cy="246.11" r="0.95" fill="#bdbdbd"/>
<circle cx="454.49" cy="252.93" r="0.95" fill="#bdbdbd"/>
<circle cx="463.53" cy="251.72" r="0.95" fill="#bdbdbd"/>
<circle cx="457.88" cy="250.30" r="0.95" fill="#bdbdbd"/>
<circle cx="456.20" cy="254.11" r="0.95" fill="#bdbdbd"/>
<circle cx="459.13" cy="244.73" r="0.95" fill="#bdbdbd"/>
<circle cx="450.54" cy="254.67" r="0.95" fill="#bdbdbd"/>
<circle cx="453.03" cy="256.38" r="0.95" fill="#bdbdbd"/>
<circle cx="458.18" cy="249.41" r="0.95" fill="#bdbdbd"/>
<circle cx="452.93" cy="248.86" r="0.95" fill="#bdbdbd"/>
<circle cx="462.74" cy="236.64" r="0.95" fill="#bdbdbd"/>
<circle cx="461.16" cy="255.80" r="0.95" fill="#bdbdbd"/>
<circle cx="454.12" cy="254.28" r="0.95" fill="#bdbdbd"/>
<circle cx="456.73" cy="247.49" r="0.95" fill="#bdbdbd"/>
<circle cx="456.60" cy="256.26" r="0.95" fill="#bdbdbd"/>
<circle cx="459.06" cy="256.24" r="0.95" fill="#bdbdbd"/>
<circle cx="456.80" cy="236.18" r="0.95" fill="#bdbdbd"/>
<circle cx="454.13" cy="252.74" r="0.95" fill="#bdbdbd"/>
<circle cx="459.84" cy="248.17" r="0.95" fill="#bdbdbd"/>
<circle cx="454.14" cy="246.11" r="0.95" fill="#bdbdbd"/>
<circle cx="451.10" cy="252.97" r="0.95" fill="#bdbdbd"/>
<circle cx="460.95" cy="255.62" r="0.95" fill="#bdbdbd"/>
<circle cx="458.85" cy="244.42" r="0.95" fill="#bdbdbd"/>
<circle cx="452.46" cy="256.28" r="0.95" fill="#bdbdbd"/>
<circle cx="457.00" cy="248.18" r="0.95" fill="#bdbdbd"/>
<circle cx="451.33" cy="242.04" r="0.95" fill="#bdbdbd"/>
<circle cx="459.10" cy="250.34" r="0.95" fill="#bdbdbd"/>
<circle cx="458.45" cy="251.34" r="0.95" fill="#bdbdbd"/>
<circle cx="459.51" cy="248.60" r="0.95" fill="#bdbdbd"/>
<circle cx="458.48" cy="256.47" r="0.95" fill="#bdbdbd"/>
<circle cx="450.56" cy="248.50" r="0.95" fill="#bdbdbd"/>
<circle cx="451.64" cy="255.35" r="0.95" fill="#bdbdbd"/>
<circle cx="463.19" cy="241.90" r="0.95" fill="#bdbdbd"/>
<circle cx="460.60" cy="249.51" r="0.95" fill="#bdbdbd"/>
<circle cx="456.99" cy="241.86" r="0.95" fill="#bdbdbd"/>
<circle cx="448.42" cy="252.68" r="0.95" fill="#bdbdbd"/>
<circle cx="466.57" cy="249.54" r="0.95" fill="#bdbdbd"/>
<circle cx="457.83" cy="255.21" r="0.95" fill="#bdbdbd"/>
<circle cx="464.90" cy="242.49" r="0.95" fill="#bdbdbd"/>
<circle cx="454.96" cy="247.89" r="0.95" fill="#bdbdbd"/>
<circle cx="465.71" cy="253.35" r="0.95" fill="#bdbdbd"/>
<circle cx="460.43" cy="245.88" r="0.95" fill="#bdbdbd"/>
<circle cx="454.02" cy="251.82" r="0.95" fill="#bdbdbd"/>
<circle cx="451.27" cy="246.45" r="0.95" fill="#bdbdbd"/>
<circle cx="456.83" cy="249.06" r="0.95" fill="#bdbdbd"/>
<circle cx="451.62" cy="250.47" r="0.95" fill="#bdbdbd"/>
<circle cx="453.73" cy="254.64" r="0.95" fill="#bdbdbd"/>
<circle cx="451.73" cy="254.30" r="0.95" fill="#bdbdbd"/>
<circle cx="460.40" cy="253.90" r="0.95" fill="#bdbdbd"/>
<circle cx="456.24" cy="252.24" r="0.95" fill="#bdbdbd"/>
<circle cx="456.16" cy="252.29" r="0.95" fill="#bdbdbd"/>
<circle cx="457.86" cy="249.03" r="0.95" fill="#bdbdbd"/>
<circle cx="455.71" cy="255.13" r="0.95" fill="#bdbdbd"/>
<circle cx="458.35" cy="243.15" r="0.95" fill="#bdbdbd"/>
<circle cx="459.29" cy="247.23" r="0.95" fill="#bdbdbd"/>
<circle cx="452.32" cy="256.22" r="0.95" fill="#bdbdbd"/>
<circle cx="455.85" cy="249.29" r="0.95" fill="#bdbdbd"/>
<circle cx="455.20" cy="249.64" r="0.95" fill="#bdbdbd"/>
<circle cx="449.91" cy="253.92" r="0.95" fill="#bdbdbd"/>
<circle cx="456.45" cy="243.04" r="0.95" fill="#bdbdbd"/>
<circle cx="450.13" cy="252.48" r="0.95" fill="#bdbdbd"/>
<circle cx="456.77" cy="255.30" r="0.95" fill="#bdbdbd"/>
<circle cx="459.61" cy="239.45" r="0.95" fill="#bdbdbd"/>
<circle cx="459.37" cy="251.65" r="0.95" fill="#bdbdbd"/>
<circle cx="451.60" cy="250.72" r="0.95" fill="#bdbdbd"/>
<circle cx="451.84" cy="255.54" r="0.95" fill="#bdbdbd"/>
<circle cx="459.51" cy="244.13" r="0.95" fill="#bdbdbd"/>
<circle cx="461.87" cy="254.30" r="0.95" fill="#bdbdbd"/>
<circle cx="461.29" cy="254.86" r="0.95" fill="#bdbdbd"/>
<circle cx="457.93" cy="256.19" r="0.95" fill="#bdbdbd"/>
<circle cx="461.16" cy="254.66" r="0.95" fill="#bdbdbd"/>
<circle cx="453.29" cy="246.51" r="0.95" fill="#bdbdbd"/>
<circle cx="467.97" cy="238.93" r="0.95" fill="#bdbdbd"/>
<circle cx="457.29" cy="254.84" r="0.95" fill="#bdbdbd"/>
<circle cx="456.74" cy="248.27" r="0.95" fill="#bdbdbd"/>
<circle cx="460.01" cy="255.30" r="0.95" fill="#bdbdbd"/>
<circle cx="453.39" cy="253.36" r="0.95" fill="#bdbdbd"/>
<circle cx="452.13" cy="252.76" r="0.95" fill="#bdbdbd"/>
<circle cx="466.26" cy="242.48" r="0.95" fill="#bdbdbd"/>
<circle cx="462.00" cy="256.28" r="0.95" fill="#bdbdbd"/>
<circle cx="457.70" cy="251.97" r="0.95" fill="#bdbdbd"/>
<circle cx="464.78" cy="255.67" r="0.95" fill="#bdbdbd"/>
<circle cx="457.44" cy="246.05" r="0.95" fill="#bdbdbd"/>
<circle cx="457.80" cy="254.83" r="0.95" fill="#bdbdbd"/>
<circle cx="454.75" cy="248.19" r="0.95" fill="#bdbdbd"/>
<circle cx="457.64" cy="253.06" r="0.95" fill="#bdbdbd"/>
<circle cx="454.46" cy="249.60" r="0.95" fill="#bdbdbd"/>
<circle cx="456.23" cy="253.43" r="0.95" fill="#bdbdbd"/>
<circle cx="464.31" cy="252.16" r="0.95" fill="#bdbdbd"/>
<circle cx="457.52" cy="254.08" r="0.95" fill="#bdbdbd"/>
<circle cx="456.10" cy="253.22" r="0.95" fill="#bdbdbd"/>
<circle cx="450.74" cy="253.59" r="0.95" fill="#bdbdbd"/>
<circle cx="451.34" cy="250.88" r="0.95" fill="#bdbdbd"/>
<circle cx="461.09" cy="241.58" r="0.95" fill="#bdbdbd"/>
<circle cx="463.32" cy="240.35" r="0.95" fill="#bdbdbd"/>
<circle cx="462.36" cy="250.46" r="0.95" fill="#bdbdbd"/>
<circle cx="457.98" cy="254.90" r="0.95" fill="#bdbdbd"/>
<circle cx="467.15" cy="247.71" r="0.95" fill="#bdbdbd"/>
<circle cx="457.47" cy="251.60" r="0.95" fill="#bdbdbd"/>
<circle cx="455.31" cy="245.75" r="0.95" fill="#bdbdbd"/>
<circle cx="458.85" cy="256.08" r="0.95" fill="#bdbdbd"/>
<circle cx="449.98" cy="251.45" r="0.95" fill="#bdbdbd"/>
<circle cx="454.19" cy="254.08" r="0.95" fill="#bdbdbd"/>
<circle cx="459.82" cy="249.18" r="0.95" fill="#bdbdbd"/>
<circle cx="451.97" cy="256.22" r="0.95" fill="#bdbdbd"/>
<circle cx="454.76" cy="242.12" r="0.95" fill="#bdbdbd"/>
<circle cx="460.41" cy="252.39" r="0.95" fill="#bdbdbd"/>
<circle cx="456.39" cy="238.31" r="0.95" fill="#bdbdbd"/>
<circle cx="459.71" cy="256.06" r="0.95" fill="#bdbdbd"/>
<circle cx="460.43" cy="252.04" r="0.95" fill="#bdbdbd"/>
<circle cx="464.15" cy="253.60" r="0.95" fill="#bdbdbd"/>
<circle cx="455.33" cy="252.72" r="0.95" fill="#bdbdbd"/>
<circle cx="460.32" cy="251.44" r="0.95" fill="#bdbdbd"/>
<circle cx="462.35" cy="252.24" r="0.95" fill="#bdbdbd"/>
<circle cx="460.90" cy="247.39" r="0.95" fill="#bdbdbd"/>
<circle cx="468.85" cy="255.94" r="0.95" fill="#bdbdbd"/>
<circle cx="455.43" cy="252.45" r="0.95" fill="#bdbdbd"/>
<circle cx="457.01" cy="237.19" r="0.95" fill="#bdbdbd"/>
<circle cx="466.09" cy="252.43" r="0.95" fill="#bdbdbd"/>
<circle cx="450.47" cy="251.04" r="0.95" fill="#bdbdbd"/>
<circle cx="458.68" cy="253.73" r="0.95" fill="#bdbdbd"/>
<circle cx="455.87" cy="254.09" r="0.95" fill="#bdbdbd"/>
<circle cx="461.80" cy="247.62" r="0.95" fill="#bdbdbd"/>
<circle cx="458.46" cy="252.97" r="0.95" fill="#bdbdbd"/>
<circle cx="450.81" cy="243.77" r="0.95" fill="#bdbdbd"/>
<circle cx="457.48" cy="251.65" r="0.95" fill="#bdbdbd"/>
<circle cx="458.07" cy="249.21" r="0.95" fill="#bdbdbd"/>
<circle cx="454.72" cy="255.38" r="0.95" fill="#bdbdbd"/>
<circle cx="447.69" cy="245.86" r="0.95" fill="#bdbdbd"/>
<circle cx="460.00" cy="256.45" r="0.95" fill="#bdbdbd"/>
<circle cx="452.79" cy="254.57" r="0.95" fill="#bdbdbd"/>
<circle cx="464.64" cy="245.18" r="0.95" fill="#bdbdbd"/>
<circle cx="452.19" cy="251.07" r="0.95" fill="#bdbdbd"/>
<circle cx="449.13" cy="250.98" r="0.95" fill="#bdbdbd"/>
<circle cx="451.67" cy="249.03" r="0.95" fill="#bdbdbd"/>
<circle cx="458.61" cy="253.67" r="0.95" fill="#bdbdbd"/>
<circle cx="456.03" cy="242.75" r="0.95" fill="#bdbdbd"/>
<circle cx="461.30" cy="253.59" r="0.95" fill="#bdbdbd"/>
<circle cx="451.33" cy="256.50" r="0.95" fill="#bdbdbd"/>
<circle cx="462.22" cy="244.45" r="0.95" fill="#bdbdbd"/>
<circle cx="459.24" cy="245.13" r="0.95" fill="#bdbdbd"/>
<circle cx="461.14" cy="251.32" r="0.95" fill="#bdbdbd"/>
<circle cx="456.28" cy="247.68" r="0.95" fill="#bdbdbd"/>
<circle cx="451.06" cy="248.51" r="0.95" fill="#bdbdbd"/>
<circle cx="460.86" cy="254.02" r="0.95" fill="#bdbdbd"/>
<circle cx="457.30" cy="251.37" r="0.95" fill="#bdbdbd"/>
<circle cx="456.78" cy="252.26" r="0.95" fill="#bdbdbd"/>
<circle cx="447.02" cy="252.38" r="0.95" fill="#bdbdbd"/>
<circle cx="457.25" cy="246.48" r="0.95" fill="#bdbdbd"/>
<circle cx="454.96" cy="254.30" r="0.95" fill="#bdbdbd"/>
<circle cx="452.22" cy="245.66" r="0.95" fill="#bdbdbd"/>
<circle cx="451.01" cy="247.34" r="0.95" fill="#bdbdbd"/>
<circle cx="456.87" cy="250.65" r="0.95" fill="#bdbdbd"/>
<circle cx="456.51" cy="252.90" r="0.95" fill="#bdbdbd"/>
<circle cx="453.38" cy="256.13" r="0.95" fill="#bdbdbd"/>
<circle cx="455.21" cy="248.10" r="0.95" fill="#bdbdbd"/>
<circle cx="457.09" cy="249.74" r="0.95" fill="#bdbdbd"/>
<circle cx="458.76" cy="255.31" r="0.95" fill="#bdbdbd"/>
<circle cx="457.93" cy="248.30" r="0.95" fill="#bdbdbd"/>
<circle cx="459.80" cy="253.82" r="0.95" fill="#bdbdbd"/>
<circle cx="453.53" cy="255.89" r="0.95" fill="#bdbdbd"/>
<circle cx="460.69" cy="255.36" r="0.95" fill="#bdbdbd"/>
<circle cx="446.84" cy="250.26" r="0.95" fill="#bdbdbd"/>
<circle cx="456.96" cy="253.65" r="0.95" fill="#bdbdbd"/>
<circle cx="453.24" cy="255.38" r="0.95" fill="#bdbdbd"/>
<circle cx="459.80" cy="253.77" r="0.95" fill="#bdbdbd"/>
<circle cx="449.42" cy="249.77" r="0.95" fill="#bdbdbd"/>
<circle cx="453.72" cy="250.54" r="0.95" fill="#bdbdbd"/>
<circle cx="456.28" cy="248.32" r="0.95" fill="#bdbdbd"/>
<circle cx="456.55" cy="245.80" r="0.95" fill="#bdbdbd"/>
<circle cx="451.13" cy="252.42" r="0.95" fill="#bdbdbd"/>
<circle cx="452.87" cy="253.38" r="0.95" fill="#bdbdbd"/>
<circle cx="462.95" cy="244.46" r="0.95" fill="#bdbdbd"/>
<circle cx="468.39" cy="227.48" r="0.95" fill="#bdbdbd"/>
<circle cx="462.26" cy="228.29" r="0.95" fill="#bdbdbd"/>
<circle cx="454.55" cy="223.63" r="0.95" fill="#bdbdbd"/>
<circle cx="454.99" cy="214.10" r="0.95" fill="#bdbdbd"/>
<circle cx="461.01" cy="241.43" r="0.95" fill="#bdbdbd"/>
<circle cx="457.98" cy="225.47" r="0.95" fill="#bdbdbd"/>
<circle cx="464.15" cy="232.22" r="0.95" fill="#bdbdbd"/>
<circle cx="450.02" cy="239.05" r="0.95" fill="#bdbdbd"/>
<circle cx="463.33" cy="227.77" r="0.95" fill="#bdbdbd"/>
<circle cx="471.39" cy="216.17" r="0.95" fill="#bdbdbd"/>
<circle cx="453.05" cy="245.46" r="0.95" fill="#bdbdbd"/>
<circle cx="469.17" cy="219.34" r="0.95" fill="#bdbdbd"/>
<circle cx="452.16" cy="245.59" r="0.95" fill="#bdbdbd"/>
<circle cx="458.19" cy="214.44" r="0.95" fill="#bdbdbd"/>
<circle cx="458.10" cy="250.17" r="0.95" fill="#bdbdbd"/>
<circle cx="456.04" cy="217.86" r="0.95" fill="#bdbdbd"/>
<circle cx="454.59" cy="219.42" r="0.95" fill="#bdbdbd"/>
<circle cx="460.24" cy="227.16" r="0.95" fill="#bdbdbd"/>
<circle cx="471.05" cy="219.80" r="0.95" fill="#bdbdbd"/>
<circle cx="469.21" cy="220.38" r="0.95" fill="#bdbdbd"/>
<circle cx="451.97" cy="247.86" r="0.95" fill="#bdbdbd"/>
<circle cx="449.52" cy="239.40" r="0.95" fill="#bdbdbd"/>
<circle cx="451.32" cy="247.97" r="0.95" fill="#bdbdbd"/>
<circle cx="462.17" cy="221.50" r="0.95" fill="#bdbdbd"/>
<circle cx="446.01" cy="240.33" r="0.95" fill="#bdbdbd"/>
<circle cx="447.69" cy="230.67" r="0.95" fill="#bdbdbd"/>
<circle cx="456.78" cy="247.54" r="0.95" fill="#bdbdbd"/>
<circle cx="453.84" cy="222.90" r="0.95" fill="#bdbdbd"/>
<circle cx="457.14" cy="219.29" r="0.95" fill="#bdbdbd"/>
<circle cx="456.57" cy="231.75" r="0.95" fill="#bdbdbd"/>
<circle cx="459.11" cy="219.49" r="0.95" fill="#bdbdbd"/>
<circle cx="450.79" cy="234.50" r="0.95" fill="#bdbdbd"/>
<circle cx="459.45" cy="246.79" r="0.95" fill="#bdbdbd"/>
<circle cx="472.41" cy="231.78" r="0.95" fill="#bdbdbd"/>
<circle cx="459.56" cy="235.38" r="0.95" fill="#bdbdbd"/>
<circle cx="452.19" cy="228.25" r="0.95" fill="#bdbdbd"/>
<circle cx="447.44" cy="229.92" r="0.95" fill="#bdbdbd"/>
<circle cx="461.69" cy="238.21" r="0.95" fill="#bdbdbd"/>
<circle cx="458.32" cy="238.17" r="0.95" fill="#bdbdbd"/>
<circle cx="468.45" cy="239.94" r="0.95" fill="#bdbdbd"/>
<circle cx="460.71" cy="249.40" r="0.95" fill="#bdbdbd"/>
<circle cx="449.41" cy="233.40" r="0.95" fill="#bdbdbd"/>
<circle cx="460.47" cy="241.29" r="0.95" fill="#bdbdbd"/>
<circle cx="457.90" cy="237.76" r="0.95" fill="#bdbdbd"/>
<circle cx="451.64" cy="227.91" r="0.95" fill="#bdbdbd"/>
<circle cx="385.50" cy="256.10" r="0.95" fill="#bdbdbd"/>
<circle cx="396.40" cy="256.10" r="0.95" fill="#bdbdbd"/>
<circle cx="400.90" cy="256.10" r="0.95" fill="#bdbdbd"/>
<circle cx="402.70" cy="256.10" r="0.95" fill="#bdbdbd"/>
<circle cx="415.50" cy="256.10" r="0.95" fill="#bdbdbd"/>
<circle cx="417.00" cy="256.10" r="0.95" fill="#bdbdbd"/>
<circle cx="426.00" cy="256.10" r="0.95" fill="#bdbdbd"/>
<circle cx="427.10" cy="256.10" r="0.95" fill="#bdbdbd"/>
<circle cx="428.20" cy="256.10" r="0.95" fill="#bdbdbd"/>
<circle cx="429.30" cy="256.10" r="0.95" fill="#bdbdbd"/>
<circle cx="430.40" cy="256.10" r="0.95" fill="#bdbdbd"/>
<circle cx="431.50" cy="256.10" r="0.95" fill="#bdbdbd"/>
<circle cx="432.60" cy="256.10" r="0.95" fill="#bdbdbd"/>
<circle cx="433.70" cy="256.10" r="0.95" fill="#bdbdbd"/>
<circle cx="434.80" cy="256.10" r="0.95" fill="#bdbdbd"/>
<circle cx="435.90" cy="256.10" r="0.95" fill="#bdbdbd"/>
<circle cx="437.00" cy="256.10" r="0.95" fill="#bdbdbd"/>
<circle cx="438.10" cy="256.10" r="0.95" fill="#bdbdbd"/>
<circle cx="439.20" cy="256.10" r="0.95" fill="#bdbdbd"/>
<circle cx="440.30" cy="256.10" r="0.95" fill="#bdbdbd"/>
<circle cx="441.40" cy="256.10" r="0.95" fill="#bdbdbd"/>
<circle cx="442.50" cy="256.10" r="0.95" fill="#bdbdbd"/>
<circle cx="443.60" cy="256.10" r="0.95" fill="#bdbdbd"/>
<circle cx="444.70" cy="256.10" r="0.95" fill="#bdbdbd"/>
<circle cx="445.80" cy="256.10" r="0.95" fill="#bdbdbd"/>
<circle cx="446.90" cy="256.10" r="0.95" fill="#bdbdbd"/>
<circle cx="448.00" cy="256.10" r="0.95" fill="#bdbdbd"/>
<circle cx="449.10" cy="256.10" r="0.95" fill="#bdbdbd"/>
<circle cx="497.20" cy="248.70" r="0.9" fill="#bdbdbd"/>
<circle cx="502.90" cy="247.00" r="0.9" fill="#bdbdbd"/>
<circle cx="478.00" cy="244.50" r="0.9" fill="#bdbdbd"/>
<circle cx="469.60" cy="244.50" r="0.9" fill="#bdbdbd"/>
<circle cx="473.30" cy="249.50" r="0.9" fill="#bdbdbd"/>
<circle cx="477.00" cy="255.60" r="0.9" fill="#bdbdbd"/>
<circle cx="468.40" cy="228.50" r="0.9" fill="#bdbdbd"/>
<circle cx="473.30" cy="232.20" r="0.9" fill="#bdbdbd"/>
<circle cx="464.70" cy="234.70" r="0.9" fill="#bdbdbd"/>
<circle cx="462.20" cy="221.00" r="0.9" fill="#bdbdbd"/>
<circle cx="464.70" cy="220.00" r="0.9" fill="#bdbdbd"/>
<circle cx="480.00" cy="238.00" r="0.9" fill="#bdbdbd"/>
<circle cx="470.00" cy="240.00" r="0.9" fill="#bdbdbd"/>
<circle cx="449.00" cy="233.00" r="0.9" fill="#bdbdbd"/>
<circle cx="451.00" cy="226.00" r="0.9" fill="#bdbdbd"/>
<circle cx="444.00" cy="250.00" r="0.9" fill="#bdbdbd"/>
<circle cx="448.20" cy="172.20" r="1.0" fill="#2f86e8"/>
<circle cx="450.70" cy="172.20" r="1.0" fill="#2f86e8"/>
<circle cx="445.80" cy="180.00" r="1.0" fill="#2f86e8"/>
<circle cx="451.20" cy="199.30" r="1.0" fill="#2f86e8"/>
<circle cx="454.00" cy="198.60" r="1.0" fill="#2f86e8"/>
<circle cx="454.00" cy="200.60" r="1.0" fill="#2f86e8"/>
<circle cx="430.40" cy="203.70" r="1.0" fill="#2f86e8"/>
<circle cx="444.40" cy="206.70" r="1.0" fill="#2f86e8"/>
<circle cx="447.60" cy="206.70" r="1.0" fill="#2f86e8"/>
<circle cx="460.50" cy="172.70" r="1.0" fill="#d00000"/>
<circle cx="511.00" cy="188.70" r="1.0" fill="#d00000"/>
<circle cx="487.60" cy="198.10" r="1.0" fill="#d00000"/>
<circle cx="497.50" cy="199.30" r="1.0" fill="#d00000"/>
<circle cx="458.50" cy="194.40" r="1.0" fill="#d00000"/>
<circle cx="459.70" cy="194.40" r="1.0" fill="#d00000"/>
<circle cx="465.90" cy="194.40" r="1.0" fill="#d00000"/>
<circle cx="465.20" cy="198.10" r="1.0" fill="#d00000"/>
<circle cx="465.20" cy="199.60" r="1.0" fill="#d00000"/>
<circle cx="466.00" cy="202.50" r="1.0" fill="#d00000"/>
<circle cx="461.00" cy="206.70" r="1.0" fill="#d00000"/>
<circle cx="465.60" cy="202.50" r="1.0" fill="#d00000"/>
<g transform="translate(412.20,172.50) scale(0.88,1)"><text font-size="4.5" fill="#4a8ee0" stroke="#4a8ee0" stroke-width="0.09">Methylsuccinic acid</text></g>
<g transform="translate(413.70,178.60) scale(0.88,1)"><text font-size="4.5" fill="#4a8ee0" stroke="#4a8ee0" stroke-width="0.09">2-Aminoadipic acid</text></g>
<g transform="translate(450.20,177.80) scale(0.88,1)"><text font-size="4.5" fill="#4a8ee0" stroke="#4a8ee0" stroke-width="0.09">2-Phenylphenate tetrahydrate</text></g>
<g transform="translate(403.00,202.80) scale(0.88,1)"><text font-size="4.5" fill="#4a8ee0" stroke="#4a8ee0" stroke-width="0.09">2-Linoleoyl glycerol</text></g>
<g transform="translate(440.70,204.80) scale(0.88,1)"><text font-size="4.5" fill="#4a8ee0" stroke="#4a8ee0" stroke-width="0.09">Benzamide</text></g>
<g transform="translate(413.00,211.10) scale(0.88,1)"><text font-size="4.5" fill="#4a8ee0" stroke="#4a8ee0" stroke-width="0.09">Glycerol 3-phosphate</text></g>
<g transform="translate(462.20,172.50) scale(0.88,1)"><text font-size="4.5" fill="#d02626" stroke="#d02626" stroke-width="0.09">3-Methylpyrazole</text></g>
<g transform="translate(469.60,187.80) scale(0.88,1)"><text font-size="4.5" fill="#d02626" stroke="#d02626" stroke-width="0.09">2,3-Dinor prostaglandin E1</text></g>
<g transform="translate(452.30,191.50) scale(0.88,1)"><text font-size="4.5" fill="#d02626" stroke="#d02626" stroke-width="0.09">Taurine</text></g>
<g transform="translate(443.70,196.60) scale(0.88,1)"><text font-size="4.5" fill="#d02626" stroke="#d02626" stroke-width="0.09">Tropine</text></g>
<g transform="translate(473.30,196.60) scale(0.88,1)"><text font-size="4.5" fill="#d02626" stroke="#d02626" stroke-width="0.09">Albocycline</text></g>
<g transform="translate(453.60,211.20) scale(0.88,1)"><text font-size="4.5" fill="#d02626" stroke="#d02626" stroke-width="0.09">4-(Ethylsulfonyl)phenol</text></g>
<rect x="379.30" y="168.00" width="138.20" height="95.50" fill="none" stroke="#aaaaaa" stroke-width="0.8"/>
<line x1="386.60" y1="263.50" x2="386.60" y2="265.00" stroke="#444" stroke-width="0.5"/>
<g transform="translate(386.60,268.75) scale(0.9,1)"><text font-size="3.556" text-anchor="middle" fill="#444" stroke="#444" stroke-width="0.04">-10</text></g>
<line x1="421.70" y1="263.50" x2="421.70" y2="265.00" stroke="#444" stroke-width="0.5"/>
<g transform="translate(421.70,268.75) scale(0.9,1)"><text font-size="3.556" text-anchor="middle" fill="#444" stroke="#444" stroke-width="0.04">-5</text></g>
<line x1="456.80" y1="263.50" x2="456.80" y2="265.00" stroke="#444" stroke-width="0.5"/>
<g transform="translate(456.80,268.75) scale(0.9,1)"><text font-size="3.556" text-anchor="middle" fill="#444" stroke="#444" stroke-width="0.04">0</text></g>
<line x1="491.80" y1="263.50" x2="491.80" y2="265.00" stroke="#444" stroke-width="0.5"/>
<g transform="translate(491.80,268.75) scale(0.9,1)"><text font-size="3.556" text-anchor="middle" fill="#444" stroke="#444" stroke-width="0.04">5</text></g>
<line x1="377.80" y1="259.20" x2="379.30" y2="259.20" stroke="#444" stroke-width="0.5"/>
<g transform="translate(377.30,260.42) scale(0.9,1)"><text font-size="3.778" text-anchor="end" fill="#555" stroke="#555" stroke-width="0.04">0.0</text></g>
<line x1="377.80" y1="240.50" x2="379.30" y2="240.50" stroke="#444" stroke-width="0.5"/>
<g transform="translate(377.30,241.72) scale(0.9,1)"><text font-size="3.778" text-anchor="end" fill="#555" stroke="#555" stroke-width="0.04">0.5</text></g>
<line x1="377.80" y1="221.00" x2="379.30" y2="221.00" stroke="#444" stroke-width="0.5"/>
<g transform="translate(377.30,222.22) scale(0.9,1)"><text font-size="3.778" text-anchor="end" fill="#555" stroke="#555" stroke-width="0.04">1.0</text></g>
<line x1="377.80" y1="202.40" x2="379.30" y2="202.40" stroke="#444" stroke-width="0.5"/>
<g transform="translate(377.30,203.62) scale(0.9,1)"><text font-size="3.778" text-anchor="end" fill="#555" stroke="#555" stroke-width="0.04">1.5</text></g>
<line x1="377.80" y1="183.40" x2="379.30" y2="183.40" stroke="#444" stroke-width="0.5"/>
<g transform="translate(377.30,184.62) scale(0.9,1)"><text font-size="3.778" text-anchor="end" fill="#555" stroke="#555" stroke-width="0.04">2.0</text></g>
<g transform="translate(371.20,215.00) rotate(-90) scale(0.9,1)"><text font-size="4.556" text-anchor="middle" fill="#333" stroke="#333" stroke-width="0.04">-log10(p)</text></g>
<g transform="translate(448.00,273.28) scale(0.9,1)"><text font-size="4.556" text-anchor="middle" fill="#333" stroke="#333" stroke-width="0.04">log2(FC)</text></g>
<text x="381.00" y="219.90" font-size="8.1" text-anchor="start" fill="#111" font-weight="bold">9 reduced</text>
<text x="468.40" y="219.80" font-size="8.1" text-anchor="start" fill="#111" font-weight="bold">11 increased</text>
<text x="361.90" y="163.60" font-size="8" text-anchor="start" fill="#000" font-weight="bold">F</text>
<g transform="translate(523.40,207.05) scale(0.9,1)"><text font-size="4.2" fill="#333" stroke="#333" stroke-width="0.05">Status</text></g>
<circle cx="526.00" cy="212.90" r="1.05" fill="#2f86e8"/>
<g transform="translate(531.20,214.15) scale(0.88,1)"><text font-size="3.6" fill="#444" stroke="#444" stroke-width="0.05">DOWN</text></g>
<circle cx="526.00" cy="218.95" r="0.65" fill="#aaaaaa"/>
<g transform="translate(531.20,220.20) scale(0.88,1)"><text font-size="3.6" fill="#444" stroke="#444" stroke-width="0.05">Non-SIG</text></g>
<circle cx="526.00" cy="225.00" r="1.05" fill="#d00000"/>
<g transform="translate(531.20,226.25) scale(0.88,1)"><text font-size="3.6" fill="#444" stroke="#444" stroke-width="0.05">UP</text></g>
<line x1="3.50" y1="136.70" x2="546.50" y2="136.70" stroke="#111" stroke-width="1.5"/>
</svg>
</body></html>
